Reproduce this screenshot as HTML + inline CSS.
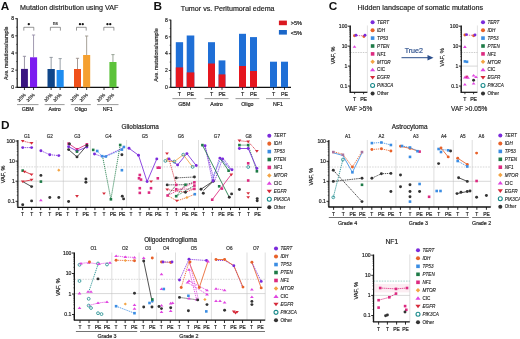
<!DOCTYPE html>
<html><head><meta charset="utf-8"><style>html,body{margin:0;padding:0;background:#fff;width:520px;height:339px;overflow:hidden}</style></head><body>
<svg width="520" height="339" viewBox="0 0 520 339" style="display:block;filter:blur(0.3px)">
<g font-family='"Liberation Sans", sans-serif'>
<rect width="520" height="339" fill="#fff"/>
<text x="0.80" y="9.90" font-size="11.8" text-anchor="start" fill="#111" font-weight="bold" font-style="normal">A</text>
<text x="20.00" y="10.40" font-size="7.15" text-anchor="start" fill="#222" font-weight="normal" font-style="normal" stroke="#222" stroke-width="0.18">Mutation distribution using VAF</text>
<line x1="17.20" y1="18.30" x2="17.20" y2="87.30" stroke="#111" stroke-width="1.15"/>
<line x1="16.70" y1="87.30" x2="118.60" y2="87.30" stroke="#111" stroke-width="1.2"/>
<line x1="15.20" y1="87.30" x2="17.20" y2="87.30" stroke="#111" stroke-width="0.8"/>
<text x="14.20" y="89.05" font-size="5.1" text-anchor="end" fill="#222" font-weight="normal" font-style="normal" stroke="#222" stroke-width="0.18">0</text>
<line x1="16.00" y1="78.72" x2="17.20" y2="78.72" stroke="#111" stroke-width="0.5"/>
<line x1="15.20" y1="70.14" x2="17.20" y2="70.14" stroke="#111" stroke-width="0.8"/>
<text x="14.20" y="71.89" font-size="5.1" text-anchor="end" fill="#222" font-weight="normal" font-style="normal" stroke="#222" stroke-width="0.18">2</text>
<line x1="16.00" y1="61.56" x2="17.20" y2="61.56" stroke="#111" stroke-width="0.5"/>
<line x1="15.20" y1="52.98" x2="17.20" y2="52.98" stroke="#111" stroke-width="0.8"/>
<text x="14.20" y="54.73" font-size="5.1" text-anchor="end" fill="#222" font-weight="normal" font-style="normal" stroke="#222" stroke-width="0.18">4</text>
<line x1="16.00" y1="44.40" x2="17.20" y2="44.40" stroke="#111" stroke-width="0.5"/>
<line x1="15.20" y1="35.82" x2="17.20" y2="35.82" stroke="#111" stroke-width="0.8"/>
<text x="14.20" y="37.57" font-size="5.1" text-anchor="end" fill="#222" font-weight="normal" font-style="normal" stroke="#222" stroke-width="0.18">6</text>
<line x1="16.00" y1="27.24" x2="17.20" y2="27.24" stroke="#111" stroke-width="0.5"/>
<line x1="15.20" y1="18.66" x2="17.20" y2="18.66" stroke="#111" stroke-width="0.8"/>
<text x="14.20" y="20.41" font-size="5.1" text-anchor="end" fill="#222" font-weight="normal" font-style="normal" stroke="#222" stroke-width="0.18">8</text>
<text x="8.30" y="53.20" font-size="5.3" text-anchor="middle" fill="#222" font-weight="normal" font-style="normal" transform="rotate(-90 8.3 53.2)" stroke="#222" stroke-width="0.18">Ave. mutations/sample</text>
<line x1="24.45" y1="68.90" x2="24.45" y2="56.30" stroke="#8f8a9c" stroke-width="0.9"/>
<line x1="22.85" y1="56.30" x2="26.05" y2="56.30" stroke="#8f8a9c" stroke-width="0.9"/>
<rect x="21.00" y="68.90" width="6.90" height="18.40" fill="#3A1580"/>
<line x1="33.55" y1="57.30" x2="33.55" y2="35.00" stroke="#978fa8" stroke-width="0.9"/>
<line x1="31.95" y1="35.00" x2="35.15" y2="35.00" stroke="#978fa8" stroke-width="0.9"/>
<rect x="30.00" y="57.30" width="7.10" height="30.00" fill="#7C1CF0"/>
<line x1="51.15" y1="69.00" x2="51.15" y2="57.40" stroke="#8a9098" stroke-width="0.9"/>
<line x1="49.55" y1="57.40" x2="52.75" y2="57.40" stroke="#8a9098" stroke-width="0.9"/>
<rect x="47.50" y="69.00" width="7.30" height="18.30" fill="#0F468A"/>
<line x1="60.15" y1="70.00" x2="60.15" y2="58.60" stroke="#8f979f" stroke-width="0.9"/>
<line x1="58.55" y1="58.60" x2="61.75" y2="58.60" stroke="#8f979f" stroke-width="0.9"/>
<rect x="56.60" y="70.00" width="7.10" height="17.30" fill="#1E8CF0"/>
<line x1="77.50" y1="69.00" x2="77.50" y2="58.30" stroke="#9c908a" stroke-width="0.9"/>
<line x1="75.90" y1="58.30" x2="79.10" y2="58.30" stroke="#9c908a" stroke-width="0.9"/>
<rect x="74.00" y="69.00" width="7.00" height="18.30" fill="#F0501A"/>
<line x1="86.65" y1="55.00" x2="86.65" y2="36.00" stroke="#9c968c" stroke-width="0.9"/>
<line x1="85.05" y1="36.00" x2="88.25" y2="36.00" stroke="#9c968c" stroke-width="0.9"/>
<rect x="83.10" y="55.00" width="7.10" height="32.30" fill="#F5A030"/>
<line x1="112.95" y1="62.00" x2="112.95" y2="54.60" stroke="#8f9c8c" stroke-width="0.9"/>
<line x1="111.35" y1="54.60" x2="114.55" y2="54.60" stroke="#8f9c8c" stroke-width="0.9"/>
<rect x="109.40" y="62.00" width="7.10" height="25.30" fill="#5CC23A"/>
<line x1="24.45" y1="87.30" x2="24.45" y2="90.00" stroke="#111" stroke-width="0.85"/>
<line x1="33.55" y1="87.30" x2="33.55" y2="90.00" stroke="#111" stroke-width="0.85"/>
<line x1="51.15" y1="87.30" x2="51.15" y2="90.00" stroke="#111" stroke-width="0.85"/>
<line x1="60.15" y1="87.30" x2="60.15" y2="90.00" stroke="#111" stroke-width="0.85"/>
<line x1="77.50" y1="87.30" x2="77.50" y2="90.00" stroke="#111" stroke-width="0.85"/>
<line x1="86.65" y1="87.30" x2="86.65" y2="90.00" stroke="#111" stroke-width="0.85"/>
<line x1="104.00" y1="87.30" x2="104.00" y2="90.00" stroke="#111" stroke-width="0.85"/>
<line x1="112.95" y1="87.30" x2="112.95" y2="90.00" stroke="#111" stroke-width="0.85"/>
<polyline points="23.80,30.60 23.80,27.30 33.80,27.30 33.80,30.60" fill="none" stroke="#444" stroke-width="0.55"/>
<circle cx="28.80" cy="24.2" r="1.15" fill="#111"/>
<polyline points="50.40,30.60 50.40,27.30 60.40,27.30 60.40,30.60" fill="none" stroke="#444" stroke-width="0.55"/>
<text x="55.40" y="25.20" font-size="4.8" text-anchor="middle" fill="#333" font-weight="normal" font-style="normal" stroke="#333" stroke-width="0.18">ns</text>
<polyline points="76.50,30.60 76.50,27.30 86.20,27.30 86.20,30.60" fill="none" stroke="#444" stroke-width="0.55"/>
<circle cx="79.95" cy="24.2" r="1.15" fill="#111"/>
<circle cx="82.75" cy="24.2" r="1.15" fill="#111"/>
<polyline points="103.80,30.60 103.80,27.30 113.90,27.30 113.90,30.60" fill="none" stroke="#444" stroke-width="0.55"/>
<circle cx="107.45" cy="24.2" r="1.15" fill="#111"/>
<circle cx="110.25" cy="24.2" r="1.15" fill="#111"/>
<text x="26.05" y="95.20" font-size="4.8" text-anchor="end" fill="#333" font-weight="normal" font-style="normal" transform="rotate(-45 26.05 95.2)" stroke="#333" stroke-width="0.18">≥5%</text>
<text x="35.15" y="95.20" font-size="4.8" text-anchor="end" fill="#333" font-weight="normal" font-style="normal" transform="rotate(-45 35.15 95.2)" stroke="#333" stroke-width="0.18">≥5%</text>
<text x="52.75" y="95.20" font-size="4.8" text-anchor="end" fill="#333" font-weight="normal" font-style="normal" transform="rotate(-45 52.75 95.2)" stroke="#333" stroke-width="0.18">≥5%</text>
<text x="61.75" y="95.20" font-size="4.8" text-anchor="end" fill="#333" font-weight="normal" font-style="normal" transform="rotate(-45 61.75 95.2)" stroke="#333" stroke-width="0.18">≥5%</text>
<text x="79.10" y="95.20" font-size="4.8" text-anchor="end" fill="#333" font-weight="normal" font-style="normal" transform="rotate(-45 79.1 95.2)" stroke="#333" stroke-width="0.18">≥5%</text>
<text x="88.25" y="95.20" font-size="4.8" text-anchor="end" fill="#333" font-weight="normal" font-style="normal" transform="rotate(-45 88.25 95.2)" stroke="#333" stroke-width="0.18">≥5%</text>
<text x="105.60" y="95.20" font-size="4.8" text-anchor="end" fill="#333" font-weight="normal" font-style="normal" transform="rotate(-45 105.6 95.2)" stroke="#333" stroke-width="0.18">≥5%</text>
<text x="114.55" y="95.20" font-size="4.8" text-anchor="end" fill="#333" font-weight="normal" font-style="normal" transform="rotate(-45 114.55 95.2)" stroke="#333" stroke-width="0.18">≥5%</text>
<line x1="17.00" y1="104.60" x2="38.50" y2="104.60" stroke="#555" stroke-width="0.6"/>
<text x="27.75" y="111.20" font-size="5.3" text-anchor="middle" fill="#222" font-weight="normal" font-style="normal" stroke="#222" stroke-width="0.18">GBM</text>
<line x1="44.60" y1="104.60" x2="64.60" y2="104.60" stroke="#555" stroke-width="0.6"/>
<text x="54.60" y="111.20" font-size="5.3" text-anchor="middle" fill="#222" font-weight="normal" font-style="normal" stroke="#222" stroke-width="0.18">Astro</text>
<line x1="70.80" y1="104.60" x2="90.80" y2="104.60" stroke="#555" stroke-width="0.6"/>
<text x="80.80" y="111.20" font-size="5.3" text-anchor="middle" fill="#222" font-weight="normal" font-style="normal" stroke="#222" stroke-width="0.18">Oligo</text>
<line x1="97.00" y1="104.60" x2="118.50" y2="104.60" stroke="#555" stroke-width="0.6"/>
<text x="107.75" y="111.20" font-size="5.3" text-anchor="middle" fill="#222" font-weight="normal" font-style="normal" stroke="#222" stroke-width="0.18">NF1</text>
<text x="153.60" y="9.90" font-size="11.8" text-anchor="start" fill="#111" font-weight="bold" font-style="normal">B</text>
<text x="180.80" y="10.60" font-size="7.15" text-anchor="start" fill="#222" font-weight="normal" font-style="normal" stroke="#222" stroke-width="0.18">Tumor vs. Peritumoral edema</text>
<line x1="170.80" y1="19.80" x2="170.80" y2="87.30" stroke="#111" stroke-width="1.15"/>
<line x1="170.30" y1="87.30" x2="291.00" y2="87.30" stroke="#111" stroke-width="1.2"/>
<line x1="168.80" y1="87.30" x2="170.80" y2="87.30" stroke="#111" stroke-width="0.8"/>
<text x="167.80" y="89.05" font-size="5.1" text-anchor="end" fill="#222" font-weight="normal" font-style="normal" stroke="#222" stroke-width="0.18">0</text>
<line x1="169.60" y1="78.89" x2="170.80" y2="78.89" stroke="#111" stroke-width="0.5"/>
<line x1="168.80" y1="70.48" x2="170.80" y2="70.48" stroke="#111" stroke-width="0.8"/>
<text x="167.80" y="72.23" font-size="5.1" text-anchor="end" fill="#222" font-weight="normal" font-style="normal" stroke="#222" stroke-width="0.18">2</text>
<line x1="169.60" y1="62.07" x2="170.80" y2="62.07" stroke="#111" stroke-width="0.5"/>
<line x1="168.80" y1="53.66" x2="170.80" y2="53.66" stroke="#111" stroke-width="0.8"/>
<text x="167.80" y="55.41" font-size="5.1" text-anchor="end" fill="#222" font-weight="normal" font-style="normal" stroke="#222" stroke-width="0.18">4</text>
<line x1="169.60" y1="45.25" x2="170.80" y2="45.25" stroke="#111" stroke-width="0.5"/>
<line x1="168.80" y1="36.84" x2="170.80" y2="36.84" stroke="#111" stroke-width="0.8"/>
<text x="167.80" y="38.59" font-size="5.1" text-anchor="end" fill="#222" font-weight="normal" font-style="normal" stroke="#222" stroke-width="0.18">6</text>
<line x1="169.60" y1="28.43" x2="170.80" y2="28.43" stroke="#111" stroke-width="0.5"/>
<line x1="168.80" y1="20.02" x2="170.80" y2="20.02" stroke="#111" stroke-width="0.8"/>
<text x="167.80" y="21.77" font-size="5.1" text-anchor="end" fill="#222" font-weight="normal" font-style="normal" stroke="#222" stroke-width="0.18">8</text>
<text x="157.80" y="55.10" font-size="5.3" text-anchor="middle" fill="#222" font-weight="normal" font-style="normal" transform="rotate(-90 157.8 55.1)" stroke="#222" stroke-width="0.18">Ave. mutations/sample</text>
<rect x="175.80" y="42.20" width="7.30" height="45.10" fill="#1F6FD6"/>
<rect x="175.80" y="67.40" width="7.30" height="19.90" fill="#E5161F"/>
<line x1="179.45" y1="87.30" x2="179.45" y2="89.80" stroke="#111" stroke-width="0.85"/>
<text x="179.45" y="96.20" font-size="5.3" text-anchor="middle" fill="#222" font-weight="normal" font-style="normal" stroke="#222" stroke-width="0.18">T</text>
<rect x="186.70" y="35.50" width="7.60" height="51.80" fill="#1F6FD6"/>
<rect x="186.70" y="72.40" width="7.60" height="14.90" fill="#E5161F"/>
<line x1="190.50" y1="87.30" x2="190.50" y2="89.80" stroke="#111" stroke-width="0.85"/>
<text x="190.50" y="96.20" font-size="5.3" text-anchor="middle" fill="#222" font-weight="normal" font-style="normal" stroke="#222" stroke-width="0.18">PE</text>
<rect x="208.00" y="42.20" width="7.00" height="45.10" fill="#1F6FD6"/>
<rect x="208.00" y="63.50" width="7.00" height="23.80" fill="#E5161F"/>
<line x1="211.50" y1="87.30" x2="211.50" y2="89.80" stroke="#111" stroke-width="0.85"/>
<text x="211.50" y="96.20" font-size="5.3" text-anchor="middle" fill="#222" font-weight="normal" font-style="normal" stroke="#222" stroke-width="0.18">T</text>
<rect x="218.60" y="60.40" width="6.80" height="26.90" fill="#1F6FD6"/>
<rect x="218.60" y="74.40" width="6.80" height="12.90" fill="#E5161F"/>
<line x1="222.00" y1="87.30" x2="222.00" y2="89.80" stroke="#111" stroke-width="0.85"/>
<text x="222.00" y="96.20" font-size="5.3" text-anchor="middle" fill="#222" font-weight="normal" font-style="normal" stroke="#222" stroke-width="0.18">PE</text>
<rect x="239.00" y="33.80" width="7.00" height="53.50" fill="#1F6FD6"/>
<rect x="239.00" y="66.00" width="7.00" height="21.30" fill="#E5161F"/>
<line x1="242.50" y1="87.30" x2="242.50" y2="89.80" stroke="#111" stroke-width="0.85"/>
<text x="242.50" y="96.20" font-size="5.3" text-anchor="middle" fill="#222" font-weight="normal" font-style="normal" stroke="#222" stroke-width="0.18">T</text>
<rect x="250.00" y="37.10" width="7.00" height="50.20" fill="#1F6FD6"/>
<rect x="250.00" y="71.00" width="7.00" height="16.30" fill="#E5161F"/>
<line x1="253.50" y1="87.30" x2="253.50" y2="89.80" stroke="#111" stroke-width="0.85"/>
<text x="253.50" y="96.20" font-size="5.3" text-anchor="middle" fill="#222" font-weight="normal" font-style="normal" stroke="#222" stroke-width="0.18">PE</text>
<rect x="270.00" y="61.70" width="7.00" height="25.60" fill="#1F6FD6"/>
<line x1="273.50" y1="87.30" x2="273.50" y2="89.80" stroke="#111" stroke-width="0.85"/>
<text x="273.50" y="96.20" font-size="5.3" text-anchor="middle" fill="#222" font-weight="normal" font-style="normal" stroke="#222" stroke-width="0.18">T</text>
<rect x="281.00" y="61.70" width="7.00" height="25.60" fill="#1F6FD6"/>
<line x1="284.50" y1="87.30" x2="284.50" y2="89.80" stroke="#111" stroke-width="0.85"/>
<text x="284.50" y="96.20" font-size="5.3" text-anchor="middle" fill="#222" font-weight="normal" font-style="normal" stroke="#222" stroke-width="0.18">PE</text>
<line x1="172.40" y1="98.60" x2="196.20" y2="98.60" stroke="#555" stroke-width="0.6"/>
<text x="184.30" y="105.80" font-size="5.3" text-anchor="middle" fill="#222" font-weight="normal" font-style="normal" stroke="#222" stroke-width="0.18">GBM</text>
<line x1="204.60" y1="98.60" x2="228.50" y2="98.60" stroke="#555" stroke-width="0.6"/>
<text x="216.55" y="105.80" font-size="5.3" text-anchor="middle" fill="#222" font-weight="normal" font-style="normal" stroke="#222" stroke-width="0.18">Astro</text>
<line x1="235.50" y1="98.60" x2="259.30" y2="98.60" stroke="#555" stroke-width="0.6"/>
<text x="247.40" y="105.80" font-size="5.3" text-anchor="middle" fill="#222" font-weight="normal" font-style="normal" stroke="#222" stroke-width="0.18">Oligo</text>
<line x1="266.00" y1="98.60" x2="290.00" y2="98.60" stroke="#555" stroke-width="0.6"/>
<text x="278.00" y="105.80" font-size="5.3" text-anchor="middle" fill="#222" font-weight="normal" font-style="normal" stroke="#222" stroke-width="0.18">NF1</text>
<rect x="278.90" y="20.60" width="8.00" height="4.60" fill="#DA1820"/>
<rect x="278.90" y="30.00" width="8.00" height="4.60" fill="#1A66C8"/>
<text x="290.80" y="25.20" font-size="5.5" text-anchor="start" fill="#222" font-weight="normal" font-style="normal" stroke="#222" stroke-width="0.18">&gt;5%</text>
<text x="290.80" y="34.60" font-size="5.5" text-anchor="start" fill="#222" font-weight="normal" font-style="normal" stroke="#222" stroke-width="0.18">&lt;5%</text>
<text x="328.70" y="9.90" font-size="11.8" text-anchor="start" fill="#111" font-weight="bold" font-style="normal">C</text>
<text x="357.60" y="10.40" font-size="7.2" text-anchor="start" fill="#222" font-weight="normal" font-style="normal" stroke="#222" stroke-width="0.18">Hidden landscape of somatic mutations</text>
<line x1="367.40" y1="25.50" x2="367.40" y2="92.30" stroke="#ccc" stroke-width="0.6"/>
<line x1="350.30" y1="52.50" x2="367.40" y2="52.50" stroke="#aaa" stroke-width="0.6" stroke-dasharray="1.5,1"/>
<line x1="350.30" y1="25.50" x2="350.30" y2="92.30" stroke="#111" stroke-width="1.15"/>
<line x1="347.90" y1="86.05" x2="350.30" y2="86.05" stroke="#111" stroke-width="0.9"/>
<text x="347.30" y="87.80" font-size="5.1" text-anchor="end" fill="#222" font-weight="normal" font-style="normal" stroke="#222" stroke-width="0.18">0.1</text>
<line x1="349.10" y1="80.04" x2="350.30" y2="80.04" stroke="#111" stroke-width="0.5"/>
<line x1="349.10" y1="76.53" x2="350.30" y2="76.53" stroke="#111" stroke-width="0.5"/>
<line x1="349.10" y1="74.04" x2="350.30" y2="74.04" stroke="#111" stroke-width="0.5"/>
<line x1="349.10" y1="72.11" x2="350.30" y2="72.11" stroke="#111" stroke-width="0.5"/>
<line x1="349.10" y1="70.53" x2="350.30" y2="70.53" stroke="#111" stroke-width="0.5"/>
<line x1="349.10" y1="69.19" x2="350.30" y2="69.19" stroke="#111" stroke-width="0.5"/>
<line x1="349.10" y1="68.03" x2="350.30" y2="68.03" stroke="#111" stroke-width="0.5"/>
<line x1="349.10" y1="67.01" x2="350.30" y2="67.01" stroke="#111" stroke-width="0.5"/>
<line x1="347.90" y1="66.10" x2="350.30" y2="66.10" stroke="#111" stroke-width="0.9"/>
<text x="347.30" y="67.85" font-size="5.1" text-anchor="end" fill="#222" font-weight="normal" font-style="normal" stroke="#222" stroke-width="0.18">1</text>
<line x1="349.10" y1="60.09" x2="350.30" y2="60.09" stroke="#111" stroke-width="0.5"/>
<line x1="349.10" y1="56.58" x2="350.30" y2="56.58" stroke="#111" stroke-width="0.5"/>
<line x1="349.10" y1="54.09" x2="350.30" y2="54.09" stroke="#111" stroke-width="0.5"/>
<line x1="349.10" y1="52.16" x2="350.30" y2="52.16" stroke="#111" stroke-width="0.5"/>
<line x1="349.10" y1="50.58" x2="350.30" y2="50.58" stroke="#111" stroke-width="0.5"/>
<line x1="349.10" y1="49.24" x2="350.30" y2="49.24" stroke="#111" stroke-width="0.5"/>
<line x1="349.10" y1="48.08" x2="350.30" y2="48.08" stroke="#111" stroke-width="0.5"/>
<line x1="349.10" y1="47.06" x2="350.30" y2="47.06" stroke="#111" stroke-width="0.5"/>
<line x1="347.90" y1="46.15" x2="350.30" y2="46.15" stroke="#111" stroke-width="0.9"/>
<text x="347.30" y="47.90" font-size="5.1" text-anchor="end" fill="#222" font-weight="normal" font-style="normal" stroke="#222" stroke-width="0.18">10</text>
<line x1="349.10" y1="40.14" x2="350.30" y2="40.14" stroke="#111" stroke-width="0.5"/>
<line x1="349.10" y1="36.63" x2="350.30" y2="36.63" stroke="#111" stroke-width="0.5"/>
<line x1="349.10" y1="34.14" x2="350.30" y2="34.14" stroke="#111" stroke-width="0.5"/>
<line x1="349.10" y1="32.21" x2="350.30" y2="32.21" stroke="#111" stroke-width="0.5"/>
<line x1="349.10" y1="30.63" x2="350.30" y2="30.63" stroke="#111" stroke-width="0.5"/>
<line x1="349.10" y1="29.29" x2="350.30" y2="29.29" stroke="#111" stroke-width="0.5"/>
<line x1="349.10" y1="28.13" x2="350.30" y2="28.13" stroke="#111" stroke-width="0.5"/>
<line x1="349.10" y1="27.11" x2="350.30" y2="27.11" stroke="#111" stroke-width="0.5"/>
<line x1="347.90" y1="26.20" x2="350.30" y2="26.20" stroke="#111" stroke-width="0.9"/>
<text x="347.30" y="27.95" font-size="5.1" text-anchor="end" fill="#222" font-weight="normal" font-style="normal" stroke="#222" stroke-width="0.18">100</text>
<line x1="349.10" y1="92.06" x2="350.30" y2="92.06" stroke="#111" stroke-width="0.5"/>
<line x1="349.10" y1="90.48" x2="350.30" y2="90.48" stroke="#111" stroke-width="0.5"/>
<line x1="349.10" y1="89.14" x2="350.30" y2="89.14" stroke="#111" stroke-width="0.5"/>
<line x1="349.10" y1="87.98" x2="350.30" y2="87.98" stroke="#111" stroke-width="0.5"/>
<line x1="349.10" y1="86.96" x2="350.30" y2="86.96" stroke="#111" stroke-width="0.5"/>
<line x1="349.70" y1="92.30" x2="367.40" y2="92.30" stroke="#111" stroke-width="1.2"/>
<polyline points="355.00,35.50 364.50,35.80" fill="none" stroke="#DC2A80" stroke-width="0.7" stroke-dasharray="1.2,0.8"/>
<circle cx="354.50" cy="35.80" r="1.46" fill="#E8622A"/>
<circle cx="356.00" cy="35.30" r="1.46" fill="#7B2BDB"/>
<circle cx="363.90" cy="36.50" r="1.46" fill="#E8622A"/>
<circle cx="365.00" cy="35.30" r="1.46" fill="#7B2BDB"/>
<polygon points="354.50,45.17 356.38,47.70 352.62,47.70" fill="#E046E0"/>
<line x1="354.60" y1="92.30" x2="354.60" y2="94.20" stroke="#111" stroke-width="0.8"/>
<text x="354.60" y="100.80" font-size="5.2" text-anchor="middle" fill="#222" font-weight="normal" font-style="normal" stroke="#222" stroke-width="0.18">T</text>
<line x1="363.60" y1="92.30" x2="363.60" y2="94.20" stroke="#111" stroke-width="0.8"/>
<text x="363.60" y="100.80" font-size="5.2" text-anchor="middle" fill="#222" font-weight="normal" font-style="normal" stroke="#222" stroke-width="0.18">PE</text>
<text x="335.50" y="55.40" font-size="5.5" text-anchor="middle" fill="#222" font-weight="normal" font-style="normal" transform="rotate(-90 335.5 55.4)" stroke="#222" stroke-width="0.18">VAF, %</text>
<text x="358.70" y="110.60" font-size="6.5" text-anchor="middle" fill="#222" font-weight="normal" font-style="normal" stroke="#222" stroke-width="0.18">VAF &gt;5%</text>
<circle cx="372.60" cy="22.30" r="2.02" fill="#7B2BDB"/>
<text x="377.10" y="24.00" font-size="4.6" text-anchor="start" fill="#222" font-weight="normal" font-style="italic" stroke="#222" stroke-width="0.12">TERT</text>
<circle cx="372.60" cy="30.20" r="2.02" fill="#E8622A"/>
<text x="377.10" y="31.90" font-size="4.6" text-anchor="start" fill="#222" font-weight="normal" font-style="italic" stroke="#222" stroke-width="0.12">IDH</text>
<rect x="370.80" y="36.30" width="3.60" height="3.60" fill="#3B8DE3"/>
<text x="377.10" y="39.80" font-size="4.6" text-anchor="start" fill="#222" font-weight="normal" font-style="italic" stroke="#222" stroke-width="0.12">TP53</text>
<rect x="370.80" y="44.20" width="3.60" height="3.60" fill="#1E7B47"/>
<text x="377.10" y="47.70" font-size="4.6" text-anchor="start" fill="#222" font-weight="normal" font-style="italic" stroke="#222" stroke-width="0.12">PTEN</text>
<rect x="370.80" y="52.10" width="3.60" height="3.60" fill="#DC2A80"/>
<text x="377.10" y="55.60" font-size="4.6" text-anchor="start" fill="#222" font-weight="normal" font-style="italic" stroke="#222" stroke-width="0.12">NF1</text>
<polygon points="372.60,59.55 374.85,61.80 372.60,64.05 370.35,61.80" fill="#F3A444"/>
<text x="377.10" y="63.50" font-size="4.6" text-anchor="start" fill="#222" font-weight="normal" font-style="italic" stroke="#222" stroke-width="0.12">MTOR</text>
<polygon points="372.60,67.72 375.21,71.23 369.99,71.23" fill="#E046E0"/>
<text x="377.10" y="71.40" font-size="4.6" text-anchor="start" fill="#222" font-weight="normal" font-style="normal" stroke="#222" stroke-width="0.12">CIC</text>
<polygon points="372.60,79.58 375.21,76.07 369.99,76.07" fill="#D62A3A"/>
<text x="377.10" y="79.30" font-size="4.6" text-anchor="start" fill="#222" font-weight="normal" font-style="italic" stroke="#222" stroke-width="0.12">EGFR</text>
<circle cx="372.60" cy="85.50" r="1.98" fill="none" stroke="#17898A" stroke-width="1.08"/>
<text x="377.10" y="87.20" font-size="4.6" text-anchor="start" fill="#222" font-weight="normal" font-style="italic" stroke="#222" stroke-width="0.12">PIK3CA</text>
<circle cx="372.60" cy="93.40" r="2.02" fill="#333333"/>
<text x="377.10" y="95.10" font-size="4.6" text-anchor="start" fill="#222" font-weight="normal" font-style="normal" stroke="#222" stroke-width="0.12">Other</text>
<line x1="401.50" y1="57.70" x2="429.00" y2="57.70" stroke="#2C4F8C" stroke-width="1.0"/>
<polygon points="433.5,57.7 427.5,55.0 427.5,60.4" fill="#2C4F8C"/>
<text x="413.80" y="53.20" font-size="7.1" text-anchor="middle" fill="#2C4F8C" font-weight="normal" font-style="normal" stroke="#2C4F8C" stroke-width="0.18">True2</text>
<line x1="477.40" y1="25.50" x2="477.40" y2="92.30" stroke="#ccc" stroke-width="0.6"/>
<line x1="461.30" y1="52.50" x2="477.40" y2="52.50" stroke="#aaa" stroke-width="0.6" stroke-dasharray="1.5,1"/>
<line x1="461.30" y1="66.10" x2="477.40" y2="66.10" stroke="#bbb" stroke-width="0.6"/>
<line x1="461.30" y1="25.50" x2="461.30" y2="92.30" stroke="#111" stroke-width="1.15"/>
<line x1="458.90" y1="86.05" x2="461.30" y2="86.05" stroke="#111" stroke-width="0.9"/>
<text x="458.30" y="87.80" font-size="5.1" text-anchor="end" fill="#222" font-weight="normal" font-style="normal" stroke="#222" stroke-width="0.18">0.1</text>
<line x1="460.10" y1="80.04" x2="461.30" y2="80.04" stroke="#111" stroke-width="0.5"/>
<line x1="460.10" y1="76.53" x2="461.30" y2="76.53" stroke="#111" stroke-width="0.5"/>
<line x1="460.10" y1="74.04" x2="461.30" y2="74.04" stroke="#111" stroke-width="0.5"/>
<line x1="460.10" y1="72.11" x2="461.30" y2="72.11" stroke="#111" stroke-width="0.5"/>
<line x1="460.10" y1="70.53" x2="461.30" y2="70.53" stroke="#111" stroke-width="0.5"/>
<line x1="460.10" y1="69.19" x2="461.30" y2="69.19" stroke="#111" stroke-width="0.5"/>
<line x1="460.10" y1="68.03" x2="461.30" y2="68.03" stroke="#111" stroke-width="0.5"/>
<line x1="460.10" y1="67.01" x2="461.30" y2="67.01" stroke="#111" stroke-width="0.5"/>
<line x1="458.90" y1="66.10" x2="461.30" y2="66.10" stroke="#111" stroke-width="0.9"/>
<text x="458.30" y="67.85" font-size="5.1" text-anchor="end" fill="#222" font-weight="normal" font-style="normal" stroke="#222" stroke-width="0.18">1</text>
<line x1="460.10" y1="60.09" x2="461.30" y2="60.09" stroke="#111" stroke-width="0.5"/>
<line x1="460.10" y1="56.58" x2="461.30" y2="56.58" stroke="#111" stroke-width="0.5"/>
<line x1="460.10" y1="54.09" x2="461.30" y2="54.09" stroke="#111" stroke-width="0.5"/>
<line x1="460.10" y1="52.16" x2="461.30" y2="52.16" stroke="#111" stroke-width="0.5"/>
<line x1="460.10" y1="50.58" x2="461.30" y2="50.58" stroke="#111" stroke-width="0.5"/>
<line x1="460.10" y1="49.24" x2="461.30" y2="49.24" stroke="#111" stroke-width="0.5"/>
<line x1="460.10" y1="48.08" x2="461.30" y2="48.08" stroke="#111" stroke-width="0.5"/>
<line x1="460.10" y1="47.06" x2="461.30" y2="47.06" stroke="#111" stroke-width="0.5"/>
<line x1="458.90" y1="46.15" x2="461.30" y2="46.15" stroke="#111" stroke-width="0.9"/>
<text x="458.30" y="47.90" font-size="5.1" text-anchor="end" fill="#222" font-weight="normal" font-style="normal" stroke="#222" stroke-width="0.18">10</text>
<line x1="460.10" y1="40.14" x2="461.30" y2="40.14" stroke="#111" stroke-width="0.5"/>
<line x1="460.10" y1="36.63" x2="461.30" y2="36.63" stroke="#111" stroke-width="0.5"/>
<line x1="460.10" y1="34.14" x2="461.30" y2="34.14" stroke="#111" stroke-width="0.5"/>
<line x1="460.10" y1="32.21" x2="461.30" y2="32.21" stroke="#111" stroke-width="0.5"/>
<line x1="460.10" y1="30.63" x2="461.30" y2="30.63" stroke="#111" stroke-width="0.5"/>
<line x1="460.10" y1="29.29" x2="461.30" y2="29.29" stroke="#111" stroke-width="0.5"/>
<line x1="460.10" y1="28.13" x2="461.30" y2="28.13" stroke="#111" stroke-width="0.5"/>
<line x1="460.10" y1="27.11" x2="461.30" y2="27.11" stroke="#111" stroke-width="0.5"/>
<line x1="458.90" y1="26.20" x2="461.30" y2="26.20" stroke="#111" stroke-width="0.9"/>
<text x="458.30" y="27.95" font-size="5.1" text-anchor="end" fill="#222" font-weight="normal" font-style="normal" stroke="#222" stroke-width="0.18">100</text>
<line x1="460.10" y1="92.06" x2="461.30" y2="92.06" stroke="#111" stroke-width="0.5"/>
<line x1="460.10" y1="90.48" x2="461.30" y2="90.48" stroke="#111" stroke-width="0.5"/>
<line x1="460.10" y1="89.14" x2="461.30" y2="89.14" stroke="#111" stroke-width="0.5"/>
<line x1="460.10" y1="87.98" x2="461.30" y2="87.98" stroke="#111" stroke-width="0.5"/>
<line x1="460.10" y1="86.96" x2="461.30" y2="86.96" stroke="#111" stroke-width="0.5"/>
<line x1="460.70" y1="92.30" x2="477.40" y2="92.30" stroke="#111" stroke-width="1.2"/>
<polyline points="465.00,35.00 474.00,35.40" fill="none" stroke="#DC2A80" stroke-width="0.7" stroke-dasharray="1.2,0.8"/>
<circle cx="464.90" cy="35.00" r="1.46" fill="#E8622A"/>
<circle cx="466.50" cy="34.60" r="1.46" fill="#7B2BDB"/>
<circle cx="473.60" cy="35.70" r="1.46" fill="#E8622A"/>
<circle cx="475.00" cy="35.00" r="1.46" fill="#7B2BDB"/>
<polygon points="464.90,45.37 466.78,47.90 463.01,47.90" fill="#E046E0"/>
<rect x="463.60" y="60.10" width="2.60" height="2.60" fill="#3B8DE3"/>
<rect x="465.70" y="60.50" width="2.60" height="2.60" fill="#3B8DE3"/>
<polygon points="464.90,75.87 466.78,78.41 463.01,78.41" fill="#E046E0"/>
<rect x="465.50" y="75.60" width="2.60" height="2.60" fill="#DC2A80"/>
<polygon points="468.00,76.17 469.88,78.70 466.12,78.70" fill="#E046E0"/>
<polygon points="464.90,83.07 466.78,85.61 463.01,85.61" fill="#E046E0"/>
<polygon points="473.60,74.07 475.49,76.61 471.72,76.61" fill="#E046E0"/>
<polygon points="476.00,75.57 477.88,78.11 474.12,78.11" fill="#E046E0"/>
<circle cx="473.60" cy="80.30" r="1.46" fill="#333333"/>
<polygon points="473.60,81.97 475.49,84.51 471.72,84.51" fill="#E046E0"/>
<line x1="464.90" y1="92.30" x2="464.90" y2="94.20" stroke="#111" stroke-width="0.8"/>
<text x="464.90" y="100.80" font-size="5.2" text-anchor="middle" fill="#222" font-weight="normal" font-style="normal" stroke="#222" stroke-width="0.18">T</text>
<line x1="473.60" y1="92.30" x2="473.60" y2="94.20" stroke="#111" stroke-width="0.8"/>
<text x="473.60" y="100.80" font-size="5.2" text-anchor="middle" fill="#222" font-weight="normal" font-style="normal" stroke="#222" stroke-width="0.18">PE</text>
<text x="444.50" y="57.40" font-size="5.8" text-anchor="middle" fill="#222" font-weight="normal" font-style="normal" transform="rotate(-90 444.5 57.4)" stroke="#222" stroke-width="0.18">VAF, %</text>
<text x="469.20" y="110.60" font-size="6.5" text-anchor="middle" fill="#222" font-weight="normal" font-style="normal" stroke="#222" stroke-width="0.18">VAF &gt;0.05%</text>
<circle cx="483.00" cy="22.30" r="2.02" fill="#7B2BDB"/>
<text x="487.50" y="24.00" font-size="4.6" text-anchor="start" fill="#222" font-weight="normal" font-style="italic" stroke="#222" stroke-width="0.12">TERT</text>
<circle cx="483.00" cy="30.20" r="2.02" fill="#E8622A"/>
<text x="487.50" y="31.90" font-size="4.6" text-anchor="start" fill="#222" font-weight="normal" font-style="italic" stroke="#222" stroke-width="0.12">IDH</text>
<rect x="481.20" y="36.30" width="3.60" height="3.60" fill="#3B8DE3"/>
<text x="487.50" y="39.80" font-size="4.6" text-anchor="start" fill="#222" font-weight="normal" font-style="italic" stroke="#222" stroke-width="0.12">TP53</text>
<rect x="481.20" y="44.20" width="3.60" height="3.60" fill="#1E7B47"/>
<text x="487.50" y="47.70" font-size="4.6" text-anchor="start" fill="#222" font-weight="normal" font-style="italic" stroke="#222" stroke-width="0.12">PTEN</text>
<rect x="481.20" y="52.10" width="3.60" height="3.60" fill="#DC2A80"/>
<text x="487.50" y="55.60" font-size="4.6" text-anchor="start" fill="#222" font-weight="normal" font-style="italic" stroke="#222" stroke-width="0.12">NF1</text>
<polygon points="483.00,59.55 485.25,61.80 483.00,64.05 480.75,61.80" fill="#F3A444"/>
<text x="487.50" y="63.50" font-size="4.6" text-anchor="start" fill="#222" font-weight="normal" font-style="italic" stroke="#222" stroke-width="0.12">MTOR</text>
<polygon points="483.00,67.72 485.61,71.23 480.39,71.23" fill="#E046E0"/>
<text x="487.50" y="71.40" font-size="4.6" text-anchor="start" fill="#222" font-weight="normal" font-style="normal" stroke="#222" stroke-width="0.12">CIC</text>
<polygon points="483.00,79.58 485.61,76.07 480.39,76.07" fill="#D62A3A"/>
<text x="487.50" y="79.30" font-size="4.6" text-anchor="start" fill="#222" font-weight="normal" font-style="italic" stroke="#222" stroke-width="0.12">EGFR</text>
<circle cx="483.00" cy="85.50" r="1.98" fill="none" stroke="#17898A" stroke-width="1.08"/>
<text x="487.50" y="87.20" font-size="4.6" text-anchor="start" fill="#222" font-weight="normal" font-style="italic" stroke="#222" stroke-width="0.12">PIK3CA</text>
<circle cx="483.00" cy="93.40" r="2.02" fill="#333333"/>
<text x="487.50" y="95.10" font-size="4.6" text-anchor="start" fill="#222" font-weight="normal" font-style="normal" stroke="#222" stroke-width="0.12">Other</text>
<text x="0.90" y="128.50" font-size="11.8" text-anchor="start" fill="#111" font-weight="bold" font-style="normal">D</text>
<text x="140.20" y="129.20" font-size="6.4" text-anchor="middle" fill="#222" font-weight="normal" font-style="normal" stroke="#222" stroke-width="0.18">Glioblastoma</text>
<line x1="36.20" y1="140.00" x2="36.20" y2="207.30" stroke="#c8c8c8" stroke-width="0.6"/>
<line x1="63.30" y1="140.00" x2="63.30" y2="207.30" stroke="#c8c8c8" stroke-width="0.6"/>
<line x1="90.50" y1="140.00" x2="90.50" y2="207.30" stroke="#c8c8c8" stroke-width="0.6"/>
<line x1="126.60" y1="140.00" x2="126.60" y2="207.30" stroke="#c8c8c8" stroke-width="0.6"/>
<line x1="162.50" y1="140.00" x2="162.50" y2="207.30" stroke="#c8c8c8" stroke-width="0.6"/>
<line x1="198.50" y1="140.00" x2="198.50" y2="207.30" stroke="#c8c8c8" stroke-width="0.6"/>
<line x1="234.80" y1="140.00" x2="234.80" y2="207.30" stroke="#c8c8c8" stroke-width="0.6"/>
<line x1="261.60" y1="140.00" x2="261.60" y2="207.30" stroke="#c8c8c8" stroke-width="0.6"/>
<line x1="17.90" y1="166.90" x2="261.60" y2="166.90" stroke="#c6c6c6" stroke-width="0.7" stroke-dasharray="1.6,1.1"/>
<line x1="17.90" y1="181.20" x2="261.60" y2="181.20" stroke="#bdbdbd" stroke-width="0.6"/>
<line x1="17.90" y1="140.00" x2="17.90" y2="207.30" stroke="#111" stroke-width="1.15"/>
<line x1="15.50" y1="201.30" x2="17.90" y2="201.30" stroke="#111" stroke-width="0.9"/>
<text x="14.90" y="203.05" font-size="5.1" text-anchor="end" fill="#222" font-weight="normal" font-style="normal" stroke="#222" stroke-width="0.18">0.1</text>
<line x1="16.70" y1="195.25" x2="17.90" y2="195.25" stroke="#111" stroke-width="0.5"/>
<line x1="16.70" y1="191.71" x2="17.90" y2="191.71" stroke="#111" stroke-width="0.5"/>
<line x1="16.70" y1="189.20" x2="17.90" y2="189.20" stroke="#111" stroke-width="0.5"/>
<line x1="16.70" y1="187.25" x2="17.90" y2="187.25" stroke="#111" stroke-width="0.5"/>
<line x1="16.70" y1="185.66" x2="17.90" y2="185.66" stroke="#111" stroke-width="0.5"/>
<line x1="16.70" y1="184.31" x2="17.90" y2="184.31" stroke="#111" stroke-width="0.5"/>
<line x1="16.70" y1="183.15" x2="17.90" y2="183.15" stroke="#111" stroke-width="0.5"/>
<line x1="16.70" y1="182.12" x2="17.90" y2="182.12" stroke="#111" stroke-width="0.5"/>
<line x1="15.50" y1="181.20" x2="17.90" y2="181.20" stroke="#111" stroke-width="0.9"/>
<text x="14.90" y="182.95" font-size="5.1" text-anchor="end" fill="#222" font-weight="normal" font-style="normal" stroke="#222" stroke-width="0.18">1</text>
<line x1="16.70" y1="175.15" x2="17.90" y2="175.15" stroke="#111" stroke-width="0.5"/>
<line x1="16.70" y1="171.61" x2="17.90" y2="171.61" stroke="#111" stroke-width="0.5"/>
<line x1="16.70" y1="169.10" x2="17.90" y2="169.10" stroke="#111" stroke-width="0.5"/>
<line x1="16.70" y1="167.15" x2="17.90" y2="167.15" stroke="#111" stroke-width="0.5"/>
<line x1="16.70" y1="165.56" x2="17.90" y2="165.56" stroke="#111" stroke-width="0.5"/>
<line x1="16.70" y1="164.21" x2="17.90" y2="164.21" stroke="#111" stroke-width="0.5"/>
<line x1="16.70" y1="163.05" x2="17.90" y2="163.05" stroke="#111" stroke-width="0.5"/>
<line x1="16.70" y1="162.02" x2="17.90" y2="162.02" stroke="#111" stroke-width="0.5"/>
<line x1="15.50" y1="161.10" x2="17.90" y2="161.10" stroke="#111" stroke-width="0.9"/>
<text x="14.90" y="162.85" font-size="5.1" text-anchor="end" fill="#222" font-weight="normal" font-style="normal" stroke="#222" stroke-width="0.18">10</text>
<line x1="16.70" y1="155.05" x2="17.90" y2="155.05" stroke="#111" stroke-width="0.5"/>
<line x1="16.70" y1="151.51" x2="17.90" y2="151.51" stroke="#111" stroke-width="0.5"/>
<line x1="16.70" y1="149.00" x2="17.90" y2="149.00" stroke="#111" stroke-width="0.5"/>
<line x1="16.70" y1="147.05" x2="17.90" y2="147.05" stroke="#111" stroke-width="0.5"/>
<line x1="16.70" y1="145.46" x2="17.90" y2="145.46" stroke="#111" stroke-width="0.5"/>
<line x1="16.70" y1="144.11" x2="17.90" y2="144.11" stroke="#111" stroke-width="0.5"/>
<line x1="16.70" y1="142.95" x2="17.90" y2="142.95" stroke="#111" stroke-width="0.5"/>
<line x1="16.70" y1="141.92" x2="17.90" y2="141.92" stroke="#111" stroke-width="0.5"/>
<line x1="15.50" y1="141.00" x2="17.90" y2="141.00" stroke="#111" stroke-width="0.9"/>
<text x="14.90" y="142.75" font-size="5.1" text-anchor="end" fill="#222" font-weight="normal" font-style="normal" stroke="#222" stroke-width="0.18">100</text>
<line x1="16.70" y1="205.76" x2="17.90" y2="205.76" stroke="#111" stroke-width="0.5"/>
<line x1="16.70" y1="204.41" x2="17.90" y2="204.41" stroke="#111" stroke-width="0.5"/>
<line x1="16.70" y1="203.25" x2="17.90" y2="203.25" stroke="#111" stroke-width="0.5"/>
<line x1="16.70" y1="202.22" x2="17.90" y2="202.22" stroke="#111" stroke-width="0.5"/>
<line x1="17.30" y1="207.30" x2="261.60" y2="207.30" stroke="#111" stroke-width="1.3"/>
<line x1="22.60" y1="207.30" x2="22.60" y2="210.10" stroke="#111" stroke-width="0.9"/>
<text x="22.60" y="215.80" font-size="4.9" text-anchor="middle" fill="#222" font-weight="normal" font-style="normal" stroke="#222" stroke-width="0.18">T</text>
<line x1="31.64" y1="207.30" x2="31.64" y2="210.10" stroke="#111" stroke-width="0.9"/>
<text x="31.64" y="215.80" font-size="4.9" text-anchor="middle" fill="#222" font-weight="normal" font-style="normal" stroke="#222" stroke-width="0.18">T</text>
<line x1="40.68" y1="207.30" x2="40.68" y2="210.10" stroke="#111" stroke-width="0.9"/>
<text x="40.68" y="215.80" font-size="4.9" text-anchor="middle" fill="#222" font-weight="normal" font-style="normal" stroke="#222" stroke-width="0.18">T</text>
<line x1="49.72" y1="207.30" x2="49.72" y2="210.10" stroke="#111" stroke-width="0.9"/>
<text x="49.72" y="215.80" font-size="4.9" text-anchor="middle" fill="#222" font-weight="normal" font-style="normal" stroke="#222" stroke-width="0.18">T</text>
<line x1="58.76" y1="207.30" x2="58.76" y2="210.10" stroke="#111" stroke-width="0.9"/>
<text x="58.76" y="215.80" font-size="4.9" text-anchor="middle" fill="#222" font-weight="normal" font-style="normal" stroke="#222" stroke-width="0.18">PE</text>
<line x1="67.80" y1="207.30" x2="67.80" y2="210.10" stroke="#111" stroke-width="0.9"/>
<text x="67.80" y="215.80" font-size="4.9" text-anchor="middle" fill="#222" font-weight="normal" font-style="normal" stroke="#222" stroke-width="0.18">T</text>
<line x1="76.84" y1="207.30" x2="76.84" y2="210.10" stroke="#111" stroke-width="0.9"/>
<text x="76.84" y="215.80" font-size="4.9" text-anchor="middle" fill="#222" font-weight="normal" font-style="normal" stroke="#222" stroke-width="0.18">T</text>
<line x1="85.88" y1="207.30" x2="85.88" y2="210.10" stroke="#111" stroke-width="0.9"/>
<text x="85.88" y="215.80" font-size="4.9" text-anchor="middle" fill="#222" font-weight="normal" font-style="normal" stroke="#222" stroke-width="0.18">PE</text>
<line x1="94.92" y1="207.30" x2="94.92" y2="210.10" stroke="#111" stroke-width="0.9"/>
<text x="94.92" y="215.80" font-size="4.9" text-anchor="middle" fill="#222" font-weight="normal" font-style="normal" stroke="#222" stroke-width="0.18">T</text>
<line x1="103.96" y1="207.30" x2="103.96" y2="210.10" stroke="#111" stroke-width="0.9"/>
<text x="103.96" y="215.80" font-size="4.9" text-anchor="middle" fill="#222" font-weight="normal" font-style="normal" stroke="#222" stroke-width="0.18">T</text>
<line x1="113.00" y1="207.30" x2="113.00" y2="210.10" stroke="#111" stroke-width="0.9"/>
<text x="113.00" y="215.80" font-size="4.9" text-anchor="middle" fill="#222" font-weight="normal" font-style="normal" stroke="#222" stroke-width="0.18">PE</text>
<line x1="122.04" y1="207.30" x2="122.04" y2="210.10" stroke="#111" stroke-width="0.9"/>
<text x="122.04" y="215.80" font-size="4.9" text-anchor="middle" fill="#222" font-weight="normal" font-style="normal" stroke="#222" stroke-width="0.18">PE</text>
<line x1="131.08" y1="207.30" x2="131.08" y2="210.10" stroke="#111" stroke-width="0.9"/>
<text x="131.08" y="215.80" font-size="4.9" text-anchor="middle" fill="#222" font-weight="normal" font-style="normal" stroke="#222" stroke-width="0.18">T</text>
<line x1="140.12" y1="207.30" x2="140.12" y2="210.10" stroke="#111" stroke-width="0.9"/>
<text x="140.12" y="215.80" font-size="4.9" text-anchor="middle" fill="#222" font-weight="normal" font-style="normal" stroke="#222" stroke-width="0.18">T</text>
<line x1="149.16" y1="207.30" x2="149.16" y2="210.10" stroke="#111" stroke-width="0.9"/>
<text x="149.16" y="215.80" font-size="4.9" text-anchor="middle" fill="#222" font-weight="normal" font-style="normal" stroke="#222" stroke-width="0.18">PE</text>
<line x1="158.20" y1="207.30" x2="158.20" y2="210.10" stroke="#111" stroke-width="0.9"/>
<text x="158.20" y="215.80" font-size="4.9" text-anchor="middle" fill="#222" font-weight="normal" font-style="normal" stroke="#222" stroke-width="0.18">PE</text>
<line x1="167.24" y1="207.30" x2="167.24" y2="210.10" stroke="#111" stroke-width="0.9"/>
<text x="167.24" y="215.80" font-size="4.9" text-anchor="middle" fill="#222" font-weight="normal" font-style="normal" stroke="#222" stroke-width="0.18">T</text>
<line x1="176.28" y1="207.30" x2="176.28" y2="210.10" stroke="#111" stroke-width="0.9"/>
<text x="176.28" y="215.80" font-size="4.9" text-anchor="middle" fill="#222" font-weight="normal" font-style="normal" stroke="#222" stroke-width="0.18">T</text>
<line x1="185.32" y1="207.30" x2="185.32" y2="210.10" stroke="#111" stroke-width="0.9"/>
<text x="185.32" y="215.80" font-size="4.9" text-anchor="middle" fill="#222" font-weight="normal" font-style="normal" stroke="#222" stroke-width="0.18">PE</text>
<line x1="194.36" y1="207.30" x2="194.36" y2="210.10" stroke="#111" stroke-width="0.9"/>
<text x="194.36" y="215.80" font-size="4.9" text-anchor="middle" fill="#222" font-weight="normal" font-style="normal" stroke="#222" stroke-width="0.18">PE</text>
<line x1="203.40" y1="207.30" x2="203.40" y2="210.10" stroke="#111" stroke-width="0.9"/>
<text x="203.40" y="215.80" font-size="4.9" text-anchor="middle" fill="#222" font-weight="normal" font-style="normal" stroke="#222" stroke-width="0.18">T</text>
<line x1="212.44" y1="207.30" x2="212.44" y2="210.10" stroke="#111" stroke-width="0.9"/>
<text x="212.44" y="215.80" font-size="4.9" text-anchor="middle" fill="#222" font-weight="normal" font-style="normal" stroke="#222" stroke-width="0.18">T</text>
<line x1="221.48" y1="207.30" x2="221.48" y2="210.10" stroke="#111" stroke-width="0.9"/>
<text x="221.48" y="215.80" font-size="4.9" text-anchor="middle" fill="#222" font-weight="normal" font-style="normal" stroke="#222" stroke-width="0.18">PE</text>
<line x1="230.52" y1="207.30" x2="230.52" y2="210.10" stroke="#111" stroke-width="0.9"/>
<text x="230.52" y="215.80" font-size="4.9" text-anchor="middle" fill="#222" font-weight="normal" font-style="normal" stroke="#222" stroke-width="0.18">PE</text>
<line x1="239.56" y1="207.30" x2="239.56" y2="210.10" stroke="#111" stroke-width="0.9"/>
<text x="239.56" y="215.80" font-size="4.9" text-anchor="middle" fill="#222" font-weight="normal" font-style="normal" stroke="#222" stroke-width="0.18">T</text>
<line x1="248.60" y1="207.30" x2="248.60" y2="210.10" stroke="#111" stroke-width="0.9"/>
<text x="248.60" y="215.80" font-size="4.9" text-anchor="middle" fill="#222" font-weight="normal" font-style="normal" stroke="#222" stroke-width="0.18">T</text>
<line x1="257.64" y1="207.30" x2="257.64" y2="210.10" stroke="#111" stroke-width="0.9"/>
<text x="257.64" y="215.80" font-size="4.9" text-anchor="middle" fill="#222" font-weight="normal" font-style="normal" stroke="#222" stroke-width="0.18">PE</text>
<text x="27.10" y="138.10" font-size="4.6" text-anchor="middle" fill="#333" font-weight="normal" font-style="normal" stroke="#333" stroke-width="0.18">G1</text>
<text x="49.80" y="138.10" font-size="4.6" text-anchor="middle" fill="#333" font-weight="normal" font-style="normal" stroke="#333" stroke-width="0.18">G2</text>
<text x="77.30" y="138.10" font-size="4.6" text-anchor="middle" fill="#333" font-weight="normal" font-style="normal" stroke="#333" stroke-width="0.18">G3</text>
<text x="108.40" y="138.10" font-size="4.6" text-anchor="middle" fill="#333" font-weight="normal" font-style="normal" stroke="#333" stroke-width="0.18">G4</text>
<text x="144.70" y="138.10" font-size="4.6" text-anchor="middle" fill="#333" font-weight="normal" font-style="normal" stroke="#333" stroke-width="0.18">G5</text>
<text x="180.80" y="138.10" font-size="4.6" text-anchor="middle" fill="#333" font-weight="normal" font-style="normal" stroke="#333" stroke-width="0.18">G6</text>
<text x="216.90" y="138.10" font-size="4.6" text-anchor="middle" fill="#333" font-weight="normal" font-style="normal" stroke="#333" stroke-width="0.18">G7</text>
<text x="248.50" y="138.10" font-size="4.6" text-anchor="middle" fill="#333" font-weight="normal" font-style="normal" stroke="#333" stroke-width="0.18">G8</text>
<text x="5.30" y="174.40" font-size="5.5" text-anchor="middle" fill="#222" font-weight="normal" font-style="normal" transform="rotate(-90 5.3 174.4)" stroke="#222" stroke-width="0.18">VAF, %</text>
<polyline points="22.70,141.00 31.60,143.20" fill="none" stroke="#D62A3A" stroke-width="0.85" stroke-dasharray="1.2,0.8"/>
<polyline points="22.70,147.60 31.60,147.60" fill="none" stroke="#7B2BDB" stroke-width="0.85" stroke-dasharray="1.2,0.8"/>
<polyline points="22.70,170.60 31.60,174.60" fill="none" stroke="#D62A3A" stroke-width="0.85"/>
<polyline points="22.70,181.60 31.60,179.90" fill="none" stroke="#D62A3A" stroke-width="0.85"/>
<polyline points="22.70,181.60 31.60,186.60" fill="none" stroke="#333333" stroke-width="0.85"/>
<polyline points="40.90,150.70 49.80,154.70 58.80,155.60" fill="none" stroke="#7B2BDB" stroke-width="0.85" stroke-dasharray="1.2,0.8"/>
<polyline points="68.60,143.60 77.00,149.30 86.90,144.30" fill="none" stroke="#DC2A80" stroke-width="0.85"/>
<polyline points="68.60,146.70 77.00,151.00 86.90,147.00" fill="none" stroke="#7B2BDB" stroke-width="0.85"/>
<polyline points="68.60,149.60 77.00,156.90 86.90,145.50" fill="none" stroke="#333333" stroke-width="0.85"/>
<polyline points="97.20,151.00 102.20,156.20 105.80,156.50 121.90,149.60 123.90,147.00" fill="none" stroke="#3B8DE3" stroke-width="0.85" stroke-dasharray="1.2,0.8"/>
<polyline points="102.50,156.00 110.90,199.30 120.20,145.00" fill="none" stroke="#1E7B47" stroke-width="0.85" stroke-dasharray="1.2,0.8"/>
<polyline points="94.50,154.00 103.50,157.00 123.90,147.50" fill="none" stroke="#7B2BDB" stroke-width="0.85" stroke-dasharray="1.2,0.8"/>
<polyline points="129.00,148.30 138.50,155.20 147.10,181.60 156.80,158.90" fill="none" stroke="#7B2BDB" stroke-width="0.85"/>
<polyline points="169.00,158.90 177.60,164.90 186.90,153.60 196.20,165.50" fill="none" stroke="#7B2BDB" stroke-width="0.85"/>
<polyline points="165.40,160.90 174.30,161.60 183.30,154.70 192.60,166.90" fill="none" stroke="#F3A444" stroke-width="0.85"/>
<polyline points="169.00,159.00 176.20,184.90" fill="none" stroke="#D62A3A" stroke-width="0.85" stroke-dasharray="1.2,0.8"/>
<polyline points="176.20,177.90 194.40,177.00" fill="none" stroke="#333333" stroke-width="0.85" stroke-dasharray="1.2,0.8"/>
<polyline points="167.20,184.90 185.50,184.70 194.40,182.30" fill="none" stroke="#333333" stroke-width="0.85" stroke-dasharray="1.2,0.8"/>
<polyline points="167.60,195.50 176.90,200.90 186.90,197.50 194.80,194.20" fill="none" stroke="#E8622A" stroke-width="0.85" stroke-dasharray="1.2,0.8"/>
<polyline points="176.20,196.20 185.50,184.70" fill="none" stroke="#1E7B47" stroke-width="0.85" stroke-dasharray="1.2,0.8"/>
<polyline points="176.20,189.20 194.40,188.90" fill="none" stroke="#DC2A80" stroke-width="0.85" stroke-dasharray="1.2,0.8"/>
<polyline points="167.60,195.50 194.40,182.30" fill="none" stroke="#DC2A80" stroke-width="0.85" stroke-dasharray="1.2,0.8"/>
<polyline points="176.20,196.20 194.40,185.60" fill="none" stroke="#1E7B47" stroke-width="0.85" stroke-dasharray="1.2,0.8"/>
<polyline points="167.20,189.60 185.50,192.20 194.40,188.90" fill="none" stroke="#D62A3A" stroke-width="0.85" stroke-dasharray="1.2,0.8"/>
<polyline points="167.60,195.50 176.20,184.90" fill="none" stroke="#333333" stroke-width="0.85" stroke-dasharray="1.2,0.8"/>
<polyline points="212.20,178.50 221.00,158.00 231.00,170.50" fill="none" stroke="#3B8DE3" stroke-width="0.85" stroke-dasharray="1.2,0.8"/>
<polyline points="203.50,190.50 212.50,182.00" fill="none" stroke="#333333" stroke-width="0.85"/>
<polyline points="205.10,145.80 212.50,181.50 219.50,157.70 230.70,169.50" fill="none" stroke="#7B2BDB" stroke-width="0.85" stroke-dasharray="1.2,0.8"/>
<polyline points="205.10,146.50 214.50,181.50 222.80,157.70 232.50,171.00" fill="none" stroke="#7B2BDB" stroke-width="0.85" stroke-dasharray="1.2,0.8"/>
<polyline points="202.40,145.10 229.30,197.30" fill="none" stroke="#1E7B47" stroke-width="0.85"/>
<polyline points="201.00,189.20 213.20,181.20" fill="none" stroke="#333333" stroke-width="0.85"/>
<polyline points="212.20,199.70 231.30,174.40" fill="none" stroke="#DC2A80" stroke-width="0.85"/>
<polyline points="219.90,158.10 228.60,170.70" fill="none" stroke="#1E7B47" stroke-width="0.85"/>
<polyline points="239.40,140.70 248.20,141.70 256.90,151.20" fill="none" stroke="#D62A3A" stroke-width="0.85" stroke-dasharray="1.2,0.8"/>
<polyline points="239.40,145.10 248.20,145.10 256.90,171.30" fill="none" stroke="#1E7B47" stroke-width="0.85" stroke-dasharray="1.2,0.8"/>
<polyline points="239.40,148.50 248.20,148.50 256.90,168.40" fill="none" stroke="#7B2BDB" stroke-width="0.85"/>
<polygon points="22.70,142.43 24.59,139.90 20.81,139.90" fill="#D62A3A"/>
<polygon points="31.60,144.63 33.48,142.09 29.71,142.09" fill="#D62A3A"/>
<circle cx="22.70" cy="147.60" r="1.46" fill="#7B2BDB"/>
<circle cx="31.60" cy="147.60" r="1.46" fill="#7B2BDB"/>
<rect x="21.40" y="169.30" width="2.60" height="2.60" fill="#1E7B47"/>
<polygon points="24.50,173.23 26.39,170.70 22.61,170.70" fill="#D62A3A"/>
<polygon points="31.60,176.03 33.48,173.50 29.71,173.50" fill="#D62A3A"/>
<polygon points="22.70,183.03 24.59,180.50 20.81,180.50" fill="#D62A3A"/>
<polygon points="31.60,181.33 33.48,178.80 29.71,178.80" fill="#D62A3A"/>
<circle cx="31.60" cy="186.60" r="1.46" fill="#333333"/>
<circle cx="22.70" cy="204.80" r="1.46" fill="#333333"/>
<circle cx="31.60" cy="200.90" r="1.46" fill="#333333"/>
<circle cx="40.90" cy="150.70" r="1.46" fill="#7B2BDB"/>
<circle cx="49.80" cy="154.70" r="1.46" fill="#7B2BDB"/>
<circle cx="58.80" cy="155.60" r="1.46" fill="#7B2BDB"/>
<circle cx="40.90" cy="175.40" r="1.46" fill="#333333"/>
<rect x="39.60" y="180.30" width="2.60" height="2.60" fill="#1E7B47"/>
<polygon points="40.90,198.77 42.78,201.30 39.02,201.30" fill="#E046E0"/>
<circle cx="49.80" cy="197.50" r="1.46" fill="#333333"/>
<circle cx="58.80" cy="197.50" r="1.46" fill="#333333"/>
<polygon points="58.80,168.57 60.42,170.20 58.80,171.82 57.17,170.20" fill="#F3A444"/>
<rect x="67.30" y="142.30" width="2.60" height="2.60" fill="#DC2A80"/>
<circle cx="69.50" cy="144.00" r="1.46" fill="#333333"/>
<rect x="75.70" y="148.00" width="2.60" height="2.60" fill="#DC2A80"/>
<rect x="85.60" y="143.00" width="2.60" height="2.60" fill="#DC2A80"/>
<circle cx="68.60" cy="146.70" r="1.46" fill="#7B2BDB"/>
<circle cx="77.00" cy="151.00" r="1.46" fill="#7B2BDB"/>
<circle cx="86.90" cy="147.00" r="1.46" fill="#7B2BDB"/>
<rect x="75.70" y="150.30" width="2.60" height="2.60" fill="#1E7B47"/>
<circle cx="68.60" cy="149.60" r="1.46" fill="#333333"/>
<circle cx="77.00" cy="156.90" r="1.46" fill="#333333"/>
<circle cx="86.90" cy="145.50" r="1.46" fill="#333333"/>
<circle cx="68.60" cy="201.50" r="1.46" fill="#333333"/>
<polygon points="77.00,197.63 78.89,195.09 75.11,195.09" fill="#D62A3A"/>
<circle cx="85.90" cy="179.00" r="1.46" fill="#333333"/>
<circle cx="85.90" cy="182.30" r="1.46" fill="#333333"/>
<rect x="91.90" y="148.60" width="2.60" height="2.60" fill="#1E7B47"/>
<circle cx="94.50" cy="154.00" r="1.46" fill="#7B2BDB"/>
<rect x="95.90" y="149.70" width="2.60" height="2.60" fill="#3B8DE3"/>
<rect x="100.90" y="154.90" width="2.60" height="2.60" fill="#3B8DE3"/>
<rect x="104.50" y="155.20" width="2.60" height="2.60" fill="#3B8DE3"/>
<rect x="120.60" y="148.30" width="2.60" height="2.60" fill="#3B8DE3"/>
<rect x="122.60" y="145.70" width="2.60" height="2.60" fill="#3B8DE3"/>
<rect x="118.90" y="143.70" width="2.60" height="2.60" fill="#1E7B47"/>
<circle cx="121.90" cy="154.70" r="1.46" fill="#333333"/>
<rect x="120.60" y="168.90" width="2.60" height="2.60" fill="#3B8DE3"/>
<polygon points="104.00,194.93 105.89,192.40 102.11,192.40" fill="#D62A3A"/>
<rect x="109.60" y="198.00" width="2.60" height="2.60" fill="#1E7B47"/>
<circle cx="122.30" cy="196.20" r="1.46" fill="#333333"/>
<circle cx="123.60" cy="198.90" r="1.46" fill="#333333"/>
<circle cx="129.00" cy="148.30" r="1.46" fill="#7B2BDB"/>
<circle cx="138.50" cy="155.20" r="1.46" fill="#7B2BDB"/>
<circle cx="147.10" cy="181.60" r="1.46" fill="#7B2BDB"/>
<circle cx="156.80" cy="158.90" r="1.46" fill="#7B2BDB"/>
<rect x="138.50" y="173.70" width="2.60" height="2.60" fill="#DC2A80"/>
<rect x="137.70" y="177.00" width="2.60" height="2.60" fill="#DC2A80"/>
<rect x="139.70" y="178.30" width="2.60" height="2.60" fill="#DC2A80"/>
<rect x="138.50" y="186.90" width="2.60" height="2.60" fill="#DC2A80"/>
<rect x="138.50" y="191.60" width="2.60" height="2.60" fill="#DC2A80"/>
<rect x="149.70" y="186.90" width="2.60" height="2.60" fill="#DC2A80"/>
<rect x="147.70" y="191.30" width="2.60" height="2.60" fill="#DC2A80"/>
<rect x="156.50" y="166.40" width="2.60" height="2.60" fill="#DC2A80"/>
<rect x="158.20" y="166.40" width="2.60" height="2.60" fill="#DC2A80"/>
<rect x="156.50" y="177.00" width="2.60" height="2.60" fill="#DC2A80"/>
<polygon points="151.10,183.03 152.98,180.50 149.22,180.50" fill="#D62A3A"/>
<polygon points="167.00,155.03 168.88,152.50 165.12,152.50" fill="#D62A3A"/>
<circle cx="165.40" cy="160.90" r="1.43" fill="none" stroke="#17898A" stroke-width="0.78"/>
<polygon points="167.60,157.28 169.22,158.90 167.60,160.53 165.97,158.90" fill="#F3A444"/>
<circle cx="169.00" cy="158.90" r="1.46" fill="#7B2BDB"/>
<circle cx="174.30" cy="161.60" r="1.43" fill="none" stroke="#17898A" stroke-width="0.78"/>
<circle cx="177.60" cy="164.90" r="1.46" fill="#7B2BDB"/>
<circle cx="183.30" cy="154.70" r="1.43" fill="none" stroke="#17898A" stroke-width="0.78"/>
<circle cx="186.90" cy="153.60" r="1.46" fill="#7B2BDB"/>
<circle cx="192.60" cy="166.90" r="1.43" fill="none" stroke="#17898A" stroke-width="0.78"/>
<circle cx="196.20" cy="165.50" r="1.46" fill="#7B2BDB"/>
<circle cx="176.20" cy="177.90" r="1.46" fill="#333333"/>
<circle cx="194.40" cy="177.00" r="1.46" fill="#333333"/>
<circle cx="167.20" cy="184.90" r="1.46" fill="#333333"/>
<polygon points="167.20,191.03 169.08,188.50 165.31,188.50" fill="#D62A3A"/>
<rect x="166.30" y="194.20" width="2.60" height="2.60" fill="#DC2A80"/>
<rect x="174.90" y="183.60" width="2.60" height="2.60" fill="#DC2A80"/>
<rect x="174.90" y="187.90" width="2.60" height="2.60" fill="#DC2A80"/>
<rect x="184.20" y="183.40" width="2.60" height="2.60" fill="#1E7B47"/>
<rect x="174.90" y="194.90" width="2.60" height="2.60" fill="#1E7B47"/>
<rect x="193.10" y="181.00" width="2.60" height="2.60" fill="#DC2A80"/>
<rect x="193.10" y="184.30" width="2.60" height="2.60" fill="#DC2A80"/>
<rect x="193.10" y="187.60" width="2.60" height="2.60" fill="#DC2A80"/>
<circle cx="185.50" cy="192.20" r="1.46" fill="#333333"/>
<rect x="193.50" y="192.90" width="2.60" height="2.60" fill="#3B8DE3"/>
<polygon points="186.90,195.88 188.53,197.50 186.90,199.12 185.28,197.50" fill="#F3A444"/>
<polygon points="176.90,202.33 178.78,199.80 175.02,199.80" fill="#D62A3A"/>
<rect x="201.10" y="143.80" width="2.60" height="2.60" fill="#1E7B47"/>
<circle cx="205.10" cy="145.80" r="1.46" fill="#7B2BDB"/>
<circle cx="219.90" cy="158.10" r="1.46" fill="#7B2BDB"/>
<circle cx="222.60" cy="159.00" r="1.46" fill="#7B2BDB"/>
<rect x="227.30" y="169.40" width="2.60" height="2.60" fill="#1E7B47"/>
<circle cx="232.00" cy="169.70" r="1.46" fill="#7B2BDB"/>
<polygon points="231.30,176.13 233.19,173.59 229.42,173.59" fill="#D62A3A"/>
<circle cx="201.00" cy="189.20" r="1.46" fill="#333333"/>
<circle cx="213.20" cy="181.20" r="1.46" fill="#333333"/>
<circle cx="203.30" cy="193.30" r="1.46" fill="#333333"/>
<circle cx="213.00" cy="181.00" r="1.46" fill="#7B2BDB"/>
<rect x="210.90" y="198.40" width="2.60" height="2.60" fill="#DC2A80"/>
<rect x="217.90" y="185.00" width="2.60" height="2.60" fill="#1E7B47"/>
<rect x="220.60" y="187.30" width="2.60" height="2.60" fill="#DC2A80"/>
<circle cx="229.30" cy="197.30" r="1.46" fill="#333333"/>
<circle cx="231.60" cy="193.90" r="1.46" fill="#333333"/>
<polygon points="239.40,142.13 241.28,139.59 237.52,139.59" fill="#D62A3A"/>
<polygon points="248.20,143.13 250.08,140.59 246.31,140.59" fill="#D62A3A"/>
<polygon points="256.90,152.63 258.78,150.09 255.01,150.09" fill="#D62A3A"/>
<rect x="238.10" y="143.80" width="2.60" height="2.60" fill="#1E7B47"/>
<rect x="246.90" y="143.80" width="2.60" height="2.60" fill="#1E7B47"/>
<rect x="255.60" y="170.00" width="2.60" height="2.60" fill="#1E7B47"/>
<circle cx="239.40" cy="148.50" r="1.46" fill="#7B2BDB"/>
<circle cx="248.20" cy="148.50" r="1.46" fill="#7B2BDB"/>
<circle cx="256.90" cy="168.40" r="1.46" fill="#7B2BDB"/>
<rect x="246.90" y="162.00" width="2.60" height="2.60" fill="#DC2A80"/>
<circle cx="248.20" cy="167.00" r="1.43" fill="none" stroke="#17898A" stroke-width="0.78"/>
<circle cx="239.40" cy="189.50" r="1.46" fill="#333333"/>
<rect x="246.90" y="179.20" width="2.60" height="2.60" fill="#DC2A80"/>
<polygon points="248.20,194.73 250.08,192.20 246.31,192.20" fill="#D62A3A"/>
<polygon points="248.20,198.73 250.08,196.20 246.31,196.20" fill="#D62A3A"/>
<circle cx="257.20" cy="198.60" r="1.46" fill="#333333"/>
<circle cx="257.20" cy="200.70" r="1.46" fill="#333333"/>
<text x="409.60" y="129.20" font-size="6.45" text-anchor="middle" fill="#222" font-weight="normal" font-style="normal" stroke="#222" stroke-width="0.18">Astrocytoma</text>
<line x1="367.30" y1="140.00" x2="367.30" y2="207.00" stroke="#c8c8c8" stroke-width="0.6"/>
<line x1="395.90" y1="140.00" x2="395.90" y2="207.00" stroke="#c8c8c8" stroke-width="0.6"/>
<line x1="433.90" y1="140.00" x2="433.90" y2="207.00" stroke="#c8c8c8" stroke-width="0.6"/>
<line x1="453.30" y1="140.00" x2="453.30" y2="207.00" stroke="#c8c8c8" stroke-width="0.6"/>
<line x1="472.20" y1="140.00" x2="472.20" y2="207.00" stroke="#c8c8c8" stroke-width="0.6"/>
<line x1="490.80" y1="140.00" x2="490.80" y2="207.00" stroke="#c8c8c8" stroke-width="0.6"/>
<line x1="328.90" y1="167.00" x2="490.80" y2="167.00" stroke="#c6c6c6" stroke-width="0.7" stroke-dasharray="1.6,1.1"/>
<line x1="328.90" y1="181.30" x2="490.80" y2="181.30" stroke="#bdbdbd" stroke-width="0.6"/>
<line x1="328.90" y1="140.00" x2="328.90" y2="207.00" stroke="#111" stroke-width="1.15"/>
<line x1="326.50" y1="201.30" x2="328.90" y2="201.30" stroke="#111" stroke-width="0.9"/>
<text x="325.90" y="203.05" font-size="5.1" text-anchor="end" fill="#222" font-weight="normal" font-style="normal" stroke="#222" stroke-width="0.18">0.1</text>
<line x1="327.70" y1="195.28" x2="328.90" y2="195.28" stroke="#111" stroke-width="0.5"/>
<line x1="327.70" y1="191.76" x2="328.90" y2="191.76" stroke="#111" stroke-width="0.5"/>
<line x1="327.70" y1="189.26" x2="328.90" y2="189.26" stroke="#111" stroke-width="0.5"/>
<line x1="327.70" y1="187.32" x2="328.90" y2="187.32" stroke="#111" stroke-width="0.5"/>
<line x1="327.70" y1="185.74" x2="328.90" y2="185.74" stroke="#111" stroke-width="0.5"/>
<line x1="327.70" y1="184.40" x2="328.90" y2="184.40" stroke="#111" stroke-width="0.5"/>
<line x1="327.70" y1="183.24" x2="328.90" y2="183.24" stroke="#111" stroke-width="0.5"/>
<line x1="327.70" y1="182.22" x2="328.90" y2="182.22" stroke="#111" stroke-width="0.5"/>
<line x1="326.50" y1="181.30" x2="328.90" y2="181.30" stroke="#111" stroke-width="0.9"/>
<text x="325.90" y="183.05" font-size="5.1" text-anchor="end" fill="#222" font-weight="normal" font-style="normal" stroke="#222" stroke-width="0.18">1</text>
<line x1="327.70" y1="175.28" x2="328.90" y2="175.28" stroke="#111" stroke-width="0.5"/>
<line x1="327.70" y1="171.76" x2="328.90" y2="171.76" stroke="#111" stroke-width="0.5"/>
<line x1="327.70" y1="169.26" x2="328.90" y2="169.26" stroke="#111" stroke-width="0.5"/>
<line x1="327.70" y1="167.32" x2="328.90" y2="167.32" stroke="#111" stroke-width="0.5"/>
<line x1="327.70" y1="165.74" x2="328.90" y2="165.74" stroke="#111" stroke-width="0.5"/>
<line x1="327.70" y1="164.40" x2="328.90" y2="164.40" stroke="#111" stroke-width="0.5"/>
<line x1="327.70" y1="163.24" x2="328.90" y2="163.24" stroke="#111" stroke-width="0.5"/>
<line x1="327.70" y1="162.22" x2="328.90" y2="162.22" stroke="#111" stroke-width="0.5"/>
<line x1="326.50" y1="161.30" x2="328.90" y2="161.30" stroke="#111" stroke-width="0.9"/>
<text x="325.90" y="163.05" font-size="5.1" text-anchor="end" fill="#222" font-weight="normal" font-style="normal" stroke="#222" stroke-width="0.18">10</text>
<line x1="327.70" y1="155.28" x2="328.90" y2="155.28" stroke="#111" stroke-width="0.5"/>
<line x1="327.70" y1="151.76" x2="328.90" y2="151.76" stroke="#111" stroke-width="0.5"/>
<line x1="327.70" y1="149.26" x2="328.90" y2="149.26" stroke="#111" stroke-width="0.5"/>
<line x1="327.70" y1="147.32" x2="328.90" y2="147.32" stroke="#111" stroke-width="0.5"/>
<line x1="327.70" y1="145.74" x2="328.90" y2="145.74" stroke="#111" stroke-width="0.5"/>
<line x1="327.70" y1="144.40" x2="328.90" y2="144.40" stroke="#111" stroke-width="0.5"/>
<line x1="327.70" y1="143.24" x2="328.90" y2="143.24" stroke="#111" stroke-width="0.5"/>
<line x1="327.70" y1="142.22" x2="328.90" y2="142.22" stroke="#111" stroke-width="0.5"/>
<line x1="326.50" y1="141.30" x2="328.90" y2="141.30" stroke="#111" stroke-width="0.9"/>
<text x="325.90" y="143.05" font-size="5.1" text-anchor="end" fill="#222" font-weight="normal" font-style="normal" stroke="#222" stroke-width="0.18">100</text>
<line x1="327.70" y1="205.74" x2="328.90" y2="205.74" stroke="#111" stroke-width="0.5"/>
<line x1="327.70" y1="204.40" x2="328.90" y2="204.40" stroke="#111" stroke-width="0.5"/>
<line x1="327.70" y1="203.24" x2="328.90" y2="203.24" stroke="#111" stroke-width="0.5"/>
<line x1="327.70" y1="202.22" x2="328.90" y2="202.22" stroke="#111" stroke-width="0.5"/>
<line x1="328.30" y1="207.00" x2="490.80" y2="207.00" stroke="#111" stroke-width="1.3"/>
<line x1="333.60" y1="207.00" x2="333.60" y2="209.80" stroke="#111" stroke-width="0.9"/>
<text x="333.60" y="215.80" font-size="4.9" text-anchor="middle" fill="#222" font-weight="normal" font-style="normal" stroke="#222" stroke-width="0.18">T</text>
<line x1="343.15" y1="207.00" x2="343.15" y2="209.80" stroke="#111" stroke-width="0.9"/>
<text x="343.15" y="215.80" font-size="4.9" text-anchor="middle" fill="#222" font-weight="normal" font-style="normal" stroke="#222" stroke-width="0.18">T</text>
<line x1="352.70" y1="207.00" x2="352.70" y2="209.80" stroke="#111" stroke-width="0.9"/>
<text x="352.70" y="215.80" font-size="4.9" text-anchor="middle" fill="#222" font-weight="normal" font-style="normal" stroke="#222" stroke-width="0.18">PE</text>
<line x1="362.25" y1="207.00" x2="362.25" y2="209.80" stroke="#111" stroke-width="0.9"/>
<text x="362.25" y="215.80" font-size="4.9" text-anchor="middle" fill="#222" font-weight="normal" font-style="normal" stroke="#222" stroke-width="0.18">PE</text>
<line x1="371.80" y1="207.00" x2="371.80" y2="209.80" stroke="#111" stroke-width="0.9"/>
<text x="371.80" y="215.80" font-size="4.9" text-anchor="middle" fill="#222" font-weight="normal" font-style="normal" stroke="#222" stroke-width="0.18">T</text>
<line x1="381.35" y1="207.00" x2="381.35" y2="209.80" stroke="#111" stroke-width="0.9"/>
<text x="381.35" y="215.80" font-size="4.9" text-anchor="middle" fill="#222" font-weight="normal" font-style="normal" stroke="#222" stroke-width="0.18">PE</text>
<line x1="390.90" y1="207.00" x2="390.90" y2="209.80" stroke="#111" stroke-width="0.9"/>
<text x="390.90" y="215.80" font-size="4.9" text-anchor="middle" fill="#222" font-weight="normal" font-style="normal" stroke="#222" stroke-width="0.18">PE</text>
<line x1="400.45" y1="207.00" x2="400.45" y2="209.80" stroke="#111" stroke-width="0.9"/>
<text x="400.45" y="215.80" font-size="4.9" text-anchor="middle" fill="#222" font-weight="normal" font-style="normal" stroke="#222" stroke-width="0.18">T</text>
<line x1="410.00" y1="207.00" x2="410.00" y2="209.80" stroke="#111" stroke-width="0.9"/>
<text x="410.00" y="215.80" font-size="4.9" text-anchor="middle" fill="#222" font-weight="normal" font-style="normal" stroke="#222" stroke-width="0.18">T</text>
<line x1="419.55" y1="207.00" x2="419.55" y2="209.80" stroke="#111" stroke-width="0.9"/>
<text x="419.55" y="215.80" font-size="4.9" text-anchor="middle" fill="#222" font-weight="normal" font-style="normal" stroke="#222" stroke-width="0.18">PE</text>
<line x1="429.10" y1="207.00" x2="429.10" y2="209.80" stroke="#111" stroke-width="0.9"/>
<text x="429.10" y="215.80" font-size="4.9" text-anchor="middle" fill="#222" font-weight="normal" font-style="normal" stroke="#222" stroke-width="0.18">PE</text>
<line x1="438.65" y1="207.00" x2="438.65" y2="209.80" stroke="#111" stroke-width="0.9"/>
<text x="438.65" y="215.80" font-size="4.9" text-anchor="middle" fill="#222" font-weight="normal" font-style="normal" stroke="#222" stroke-width="0.18">T</text>
<line x1="448.20" y1="207.00" x2="448.20" y2="209.80" stroke="#111" stroke-width="0.9"/>
<text x="448.20" y="215.80" font-size="4.9" text-anchor="middle" fill="#222" font-weight="normal" font-style="normal" stroke="#222" stroke-width="0.18">PE</text>
<line x1="457.75" y1="207.00" x2="457.75" y2="209.80" stroke="#111" stroke-width="0.9"/>
<text x="457.75" y="215.80" font-size="4.9" text-anchor="middle" fill="#222" font-weight="normal" font-style="normal" stroke="#222" stroke-width="0.18">T</text>
<line x1="467.30" y1="207.00" x2="467.30" y2="209.80" stroke="#111" stroke-width="0.9"/>
<text x="467.30" y="215.80" font-size="4.9" text-anchor="middle" fill="#222" font-weight="normal" font-style="normal" stroke="#222" stroke-width="0.18">T</text>
<line x1="476.85" y1="207.00" x2="476.85" y2="209.80" stroke="#111" stroke-width="0.9"/>
<text x="476.85" y="215.80" font-size="4.9" text-anchor="middle" fill="#222" font-weight="normal" font-style="normal" stroke="#222" stroke-width="0.18">T</text>
<line x1="486.40" y1="207.00" x2="486.40" y2="209.80" stroke="#111" stroke-width="0.9"/>
<text x="486.40" y="215.80" font-size="4.9" text-anchor="middle" fill="#222" font-weight="normal" font-style="normal" stroke="#222" stroke-width="0.18">PE</text>
<text x="347.80" y="138.00" font-size="4.6" text-anchor="middle" fill="#333" font-weight="normal" font-style="normal" stroke="#333" stroke-width="0.18">A1</text>
<text x="381.40" y="138.00" font-size="4.6" text-anchor="middle" fill="#333" font-weight="normal" font-style="normal" stroke="#333" stroke-width="0.18">A2</text>
<text x="415.80" y="138.00" font-size="4.6" text-anchor="middle" fill="#333" font-weight="normal" font-style="normal" stroke="#333" stroke-width="0.18">A3</text>
<text x="443.70" y="138.00" font-size="4.6" text-anchor="middle" fill="#333" font-weight="normal" font-style="normal" stroke="#333" stroke-width="0.18">A4</text>
<text x="462.70" y="138.00" font-size="4.6" text-anchor="middle" fill="#333" font-weight="normal" font-style="normal" stroke="#333" stroke-width="0.18">A5</text>
<text x="481.40" y="138.00" font-size="4.6" text-anchor="middle" fill="#333" font-weight="normal" font-style="normal" stroke="#333" stroke-width="0.18">A6</text>
<text x="313.20" y="176.60" font-size="5.5" text-anchor="middle" fill="#222" font-weight="normal" font-style="normal" transform="rotate(-90 313.2 176.6)" stroke="#222" stroke-width="0.18">VAF, %</text>
<line x1="328.80" y1="217.50" x2="366.30" y2="217.50" stroke="#444" stroke-width="0.75"/>
<text x="347.55" y="224.70" font-size="5.3" text-anchor="middle" fill="#222" font-weight="normal" font-style="normal" stroke="#222" stroke-width="0.18">Grade 4</text>
<line x1="367.90" y1="217.50" x2="468.80" y2="217.50" stroke="#444" stroke-width="0.75"/>
<text x="418.35" y="224.70" font-size="5.3" text-anchor="middle" fill="#222" font-weight="normal" font-style="normal" stroke="#222" stroke-width="0.18">Grade 3</text>
<line x1="472.20" y1="217.50" x2="491.00" y2="217.50" stroke="#444" stroke-width="0.75"/>
<text x="481.60" y="224.70" font-size="5.3" text-anchor="middle" fill="#222" font-weight="normal" font-style="normal" stroke="#222" stroke-width="0.18">Grade 2</text>
<circle cx="269.30" cy="135.70" r="2.02" fill="#7B2BDB"/>
<text x="273.80" y="137.40" font-size="4.6" text-anchor="start" fill="#222" font-weight="normal" font-style="italic" stroke="#222" stroke-width="0.12">TERT</text>
<circle cx="269.30" cy="143.64" r="2.02" fill="#E8622A"/>
<text x="273.80" y="145.34" font-size="4.6" text-anchor="start" fill="#222" font-weight="normal" font-style="italic" stroke="#222" stroke-width="0.12">IDH</text>
<rect x="267.50" y="149.78" width="3.60" height="3.60" fill="#3B8DE3"/>
<text x="273.80" y="153.28" font-size="4.6" text-anchor="start" fill="#222" font-weight="normal" font-style="italic" stroke="#222" stroke-width="0.12">TP53</text>
<rect x="267.50" y="157.72" width="3.60" height="3.60" fill="#1E7B47"/>
<text x="273.80" y="161.22" font-size="4.6" text-anchor="start" fill="#222" font-weight="normal" font-style="italic" stroke="#222" stroke-width="0.12">PTEN</text>
<rect x="267.50" y="165.66" width="3.60" height="3.60" fill="#DC2A80"/>
<text x="273.80" y="169.16" font-size="4.6" text-anchor="start" fill="#222" font-weight="normal" font-style="italic" stroke="#222" stroke-width="0.12">NF1</text>
<polygon points="269.30,173.15 271.55,175.40 269.30,177.65 267.05,175.40" fill="#F3A444"/>
<text x="273.80" y="177.10" font-size="4.6" text-anchor="start" fill="#222" font-weight="normal" font-style="italic" stroke="#222" stroke-width="0.12">MTOR</text>
<polygon points="269.30,181.36 271.91,184.87 266.69,184.87" fill="#E046E0"/>
<text x="273.80" y="185.04" font-size="4.6" text-anchor="start" fill="#222" font-weight="normal" font-style="normal" stroke="#222" stroke-width="0.12">CIC</text>
<polygon points="269.30,193.26 271.91,189.75 266.69,189.75" fill="#D62A3A"/>
<text x="273.80" y="192.98" font-size="4.6" text-anchor="start" fill="#222" font-weight="normal" font-style="italic" stroke="#222" stroke-width="0.12">EGFR</text>
<circle cx="269.30" cy="199.22" r="1.98" fill="none" stroke="#17898A" stroke-width="1.08"/>
<text x="273.80" y="200.92" font-size="4.6" text-anchor="start" fill="#222" font-weight="normal" font-style="italic" stroke="#222" stroke-width="0.12">PIK3CA</text>
<circle cx="269.30" cy="207.16" r="2.02" fill="#333333"/>
<text x="273.80" y="208.86" font-size="4.6" text-anchor="start" fill="#222" font-weight="normal" font-style="normal" stroke="#222" stroke-width="0.12">Other</text>
<circle cx="500.30" cy="135.60" r="2.02" fill="#7B2BDB"/>
<text x="504.80" y="137.30" font-size="4.6" text-anchor="start" fill="#222" font-weight="normal" font-style="italic" stroke="#222" stroke-width="0.12">TERT</text>
<circle cx="500.30" cy="143.50" r="2.02" fill="#E8622A"/>
<text x="504.80" y="145.20" font-size="4.6" text-anchor="start" fill="#222" font-weight="normal" font-style="italic" stroke="#222" stroke-width="0.12">IDH</text>
<rect x="498.50" y="149.60" width="3.60" height="3.60" fill="#3B8DE3"/>
<text x="504.80" y="153.10" font-size="4.6" text-anchor="start" fill="#222" font-weight="normal" font-style="italic" stroke="#222" stroke-width="0.12">TP53</text>
<rect x="498.50" y="157.50" width="3.60" height="3.60" fill="#1E7B47"/>
<text x="504.80" y="161.00" font-size="4.6" text-anchor="start" fill="#222" font-weight="normal" font-style="italic" stroke="#222" stroke-width="0.12">PTEN</text>
<rect x="498.50" y="165.40" width="3.60" height="3.60" fill="#DC2A80"/>
<text x="504.80" y="168.90" font-size="4.6" text-anchor="start" fill="#222" font-weight="normal" font-style="italic" stroke="#222" stroke-width="0.12">NF1</text>
<polygon points="500.30,172.85 502.55,175.10 500.30,177.35 498.05,175.10" fill="#F3A444"/>
<text x="504.80" y="176.80" font-size="4.6" text-anchor="start" fill="#222" font-weight="normal" font-style="italic" stroke="#222" stroke-width="0.12">MTOR</text>
<polygon points="500.30,181.02 502.91,184.53 497.69,184.53" fill="#E046E0"/>
<text x="504.80" y="184.70" font-size="4.6" text-anchor="start" fill="#222" font-weight="normal" font-style="normal" stroke="#222" stroke-width="0.12">CIC</text>
<polygon points="500.30,192.88 502.91,189.37 497.69,189.37" fill="#D62A3A"/>
<text x="504.80" y="192.60" font-size="4.6" text-anchor="start" fill="#222" font-weight="normal" font-style="italic" stroke="#222" stroke-width="0.12">EGFR</text>
<circle cx="500.30" cy="198.80" r="1.98" fill="none" stroke="#17898A" stroke-width="1.08"/>
<text x="504.80" y="200.50" font-size="4.6" text-anchor="start" fill="#222" font-weight="normal" font-style="italic" stroke="#222" stroke-width="0.12">PIK3CA</text>
<circle cx="500.30" cy="206.70" r="2.02" fill="#333333"/>
<text x="504.80" y="208.40" font-size="4.6" text-anchor="start" fill="#222" font-weight="normal" font-style="normal" stroke="#222" stroke-width="0.12">Other</text>
<polyline points="333.30,152.80 342.90,155.50 352.40,172.30 362.00,152.80" fill="none" stroke="#3B8DE3" stroke-width="0.85"/>
<polyline points="333.30,151.60 342.90,154.30 352.40,167.00 362.00,151.60" fill="none" stroke="#E8622A" stroke-width="0.85" stroke-dasharray="1.5,1.0"/>
<polyline points="333.30,197.30 342.90,159.60" fill="none" stroke="#17898A" stroke-width="0.85" stroke-dasharray="1.2,0.8"/>
<polyline points="333.30,170.20 362.00,201.60" fill="none" stroke="#333333" stroke-width="0.85" stroke-dasharray="1.5,0.8"/>
<polyline points="333.30,181.40 362.00,178.20" fill="none" stroke="#333333" stroke-width="0.85" stroke-dasharray="1.5,0.8"/>
<polyline points="371.90,143.10 381.40,142.50 390.90,145.00" fill="none" stroke="#3B8DE3" stroke-width="0.85" stroke-dasharray="1.2,0.8"/>
<polyline points="371.90,149.50 381.40,148.80 390.90,151.00" fill="none" stroke="#E8622A" stroke-width="0.85" stroke-dasharray="1.2,0.8"/>
<polyline points="371.90,178.20 381.40,173.70 390.90,173.40" fill="none" stroke="#333333" stroke-width="0.85" stroke-dasharray="1.2,0.8"/>
<polyline points="400.50,146.30 410.00,148.40 419.60,151.60" fill="none" stroke="#E8622A" stroke-width="0.85"/>
<polyline points="402.00,146.00 410.00,147.50 419.60,151.60" fill="none" stroke="#3B8DE3" stroke-width="0.85" stroke-dasharray="1.2,0.8"/>
<polyline points="438.60,149.00 448.20,150.30" fill="none" stroke="#3B8DE3" stroke-width="0.85" stroke-dasharray="1.2,0.8"/>
<polyline points="441.00,148.00 448.20,156.90" fill="none" stroke="#E8622A" stroke-width="0.85"/>
<polyline points="457.70,158.20 467.30,164.40" fill="none" stroke="#E8622A" stroke-width="0.85"/>
<polyline points="457.70,161.00 467.30,166.50" fill="none" stroke="#3B8DE3" stroke-width="0.85" stroke-dasharray="1.2,0.8"/>
<polyline points="458.60,177.70 467.30,181.40" fill="none" stroke="#333333" stroke-width="0.85"/>
<polyline points="457.00,193.60 467.30,191.50" fill="none" stroke="#333333" stroke-width="0.85"/>
<rect x="332.00" y="150.80" width="2.60" height="2.60" fill="#A9739E"/>
<rect x="341.60" y="153.50" width="2.60" height="2.60" fill="#A9739E"/>
<circle cx="352.40" cy="167.00" r="1.46" fill="#E8622A"/>
<rect x="351.10" y="171.00" width="2.60" height="2.60" fill="#3B8DE3"/>
<rect x="360.70" y="150.80" width="2.60" height="2.60" fill="#A9739E"/>
<circle cx="333.30" cy="170.20" r="1.46" fill="#333333"/>
<circle cx="333.30" cy="181.40" r="1.46" fill="#333333"/>
<circle cx="333.30" cy="197.30" r="1.43" fill="none" stroke="#17898A" stroke-width="0.78"/>
<circle cx="342.90" cy="159.60" r="1.43" fill="none" stroke="#17898A" stroke-width="0.78"/>
<circle cx="362.00" cy="178.20" r="1.46" fill="#333333"/>
<rect x="360.70" y="183.50" width="2.60" height="2.60" fill="#1E7B47"/>
<circle cx="362.00" cy="201.60" r="1.46" fill="#333333"/>
<rect x="370.60" y="141.80" width="2.60" height="2.60" fill="#3B8DE3"/>
<rect x="380.10" y="141.20" width="2.60" height="2.60" fill="#3B8DE3"/>
<rect x="389.60" y="143.70" width="2.60" height="2.60" fill="#3B8DE3"/>
<circle cx="371.90" cy="149.50" r="1.46" fill="#E8622A"/>
<circle cx="381.40" cy="148.80" r="1.46" fill="#E8622A"/>
<circle cx="390.90" cy="151.00" r="1.46" fill="#E8622A"/>
<circle cx="371.90" cy="178.20" r="1.46" fill="#333333"/>
<circle cx="381.40" cy="173.70" r="1.46" fill="#333333"/>
<circle cx="390.90" cy="173.40" r="1.46" fill="#333333"/>
<circle cx="390.90" cy="191.50" r="1.46" fill="#333333"/>
<circle cx="400.50" cy="146.30" r="1.46" fill="#E8622A"/>
<rect x="400.70" y="144.70" width="2.60" height="2.60" fill="#3B8DE3"/>
<circle cx="410.00" cy="148.40" r="1.46" fill="#E8622A"/>
<rect x="408.70" y="146.20" width="2.60" height="2.60" fill="#3B8DE3"/>
<rect x="408.70" y="155.60" width="2.60" height="2.60" fill="#3B8DE3"/>
<rect x="418.30" y="150.30" width="2.60" height="2.60" fill="#DC2A80"/>
<rect x="416.20" y="149.90" width="2.60" height="2.60" fill="#3B8DE3"/>
<circle cx="400.50" cy="175.00" r="1.46" fill="#333333"/>
<circle cx="400.50" cy="186.70" r="1.46" fill="#333333"/>
<circle cx="410.00" cy="184.80" r="1.46" fill="#333333"/>
<circle cx="410.00" cy="191.50" r="1.46" fill="#333333"/>
<circle cx="410.00" cy="196.80" r="1.46" fill="#333333"/>
<rect x="408.70" y="200.30" width="2.60" height="2.60" fill="#3B8DE3"/>
<rect x="418.30" y="182.70" width="2.60" height="2.60" fill="#3B8DE3"/>
<circle cx="419.60" cy="191.50" r="1.46" fill="#333333"/>
<rect x="427.80" y="195.50" width="2.60" height="2.60" fill="#DC2A80"/>
<rect x="437.30" y="147.70" width="2.60" height="2.60" fill="#3B8DE3"/>
<circle cx="441.00" cy="148.00" r="1.46" fill="#E8622A"/>
<rect x="439.70" y="150.70" width="2.60" height="2.60" fill="#3B8DE3"/>
<rect x="446.90" y="149.00" width="2.60" height="2.60" fill="#3B8DE3"/>
<circle cx="448.20" cy="156.90" r="1.46" fill="#E8622A"/>
<circle cx="450.60" cy="151.00" r="1.46" fill="#333333"/>
<circle cx="438.60" cy="163.60" r="1.46" fill="#333333"/>
<rect x="435.40" y="189.70" width="2.60" height="2.60" fill="#3B8DE3"/>
<rect x="439.20" y="189.70" width="2.60" height="2.60" fill="#3B8DE3"/>
<circle cx="457.70" cy="158.20" r="1.46" fill="#E8622A"/>
<rect x="456.40" y="159.70" width="2.60" height="2.60" fill="#3B8DE3"/>
<circle cx="467.30" cy="164.40" r="1.46" fill="#E8622A"/>
<rect x="466.00" y="165.20" width="2.60" height="2.60" fill="#3B8DE3"/>
<circle cx="458.60" cy="177.70" r="1.46" fill="#333333"/>
<circle cx="467.30" cy="181.40" r="1.46" fill="#333333"/>
<circle cx="457.00" cy="193.60" r="1.46" fill="#333333"/>
<circle cx="461.00" cy="192.30" r="1.46" fill="#333333"/>
<circle cx="467.30" cy="191.50" r="1.46" fill="#333333"/>
<circle cx="470.00" cy="191.00" r="1.46" fill="#333333"/>
<circle cx="476.60" cy="153.10" r="1.46" fill="#E8622A"/>
<rect x="475.30" y="179.70" width="2.60" height="2.60" fill="#DC2A80"/>
<circle cx="476.60" cy="197.20" r="1.46" fill="#333333"/>
<circle cx="486.40" cy="195.50" r="1.46" fill="#333333"/>
<text x="170.60" y="241.60" font-size="6.3" text-anchor="middle" fill="#222" font-weight="normal" font-style="normal" stroke="#222" stroke-width="0.18">Oligodendroglioma</text>
<line x1="111.80" y1="252.50" x2="111.80" y2="320.20" stroke="#c8c8c8" stroke-width="0.6"/>
<line x1="139.10" y1="252.50" x2="139.10" y2="320.20" stroke="#c8c8c8" stroke-width="0.6"/>
<line x1="156.60" y1="252.50" x2="156.60" y2="320.20" stroke="#c8c8c8" stroke-width="0.6"/>
<line x1="175.50" y1="252.50" x2="175.50" y2="320.20" stroke="#c8c8c8" stroke-width="0.6"/>
<line x1="211.40" y1="252.50" x2="211.40" y2="320.20" stroke="#c8c8c8" stroke-width="0.6"/>
<line x1="247.00" y1="252.50" x2="247.00" y2="320.20" stroke="#c8c8c8" stroke-width="0.6"/>
<line x1="265.20" y1="252.50" x2="265.20" y2="320.20" stroke="#c8c8c8" stroke-width="0.6"/>
<line x1="74.40" y1="279.30" x2="265.20" y2="279.30" stroke="#c6c6c6" stroke-width="0.7" stroke-dasharray="1.6,1.1"/>
<line x1="74.40" y1="293.60" x2="265.20" y2="293.60" stroke="#bdbdbd" stroke-width="0.6"/>
<line x1="74.40" y1="252.50" x2="74.40" y2="320.20" stroke="#111" stroke-width="1.15"/>
<line x1="72.00" y1="314.50" x2="74.40" y2="314.50" stroke="#111" stroke-width="0.9"/>
<text x="71.40" y="316.25" font-size="5.1" text-anchor="end" fill="#222" font-weight="normal" font-style="normal" stroke="#222" stroke-width="0.18">0.1</text>
<line x1="73.20" y1="308.33" x2="74.40" y2="308.33" stroke="#111" stroke-width="0.5"/>
<line x1="73.20" y1="304.72" x2="74.40" y2="304.72" stroke="#111" stroke-width="0.5"/>
<line x1="73.20" y1="302.16" x2="74.40" y2="302.16" stroke="#111" stroke-width="0.5"/>
<line x1="73.20" y1="300.17" x2="74.40" y2="300.17" stroke="#111" stroke-width="0.5"/>
<line x1="73.20" y1="298.55" x2="74.40" y2="298.55" stroke="#111" stroke-width="0.5"/>
<line x1="73.20" y1="297.18" x2="74.40" y2="297.18" stroke="#111" stroke-width="0.5"/>
<line x1="73.20" y1="295.99" x2="74.40" y2="295.99" stroke="#111" stroke-width="0.5"/>
<line x1="73.20" y1="294.94" x2="74.40" y2="294.94" stroke="#111" stroke-width="0.5"/>
<line x1="72.00" y1="294.00" x2="74.40" y2="294.00" stroke="#111" stroke-width="0.9"/>
<text x="71.40" y="295.75" font-size="5.1" text-anchor="end" fill="#222" font-weight="normal" font-style="normal" stroke="#222" stroke-width="0.18">1</text>
<line x1="73.20" y1="287.83" x2="74.40" y2="287.83" stroke="#111" stroke-width="0.5"/>
<line x1="73.20" y1="284.22" x2="74.40" y2="284.22" stroke="#111" stroke-width="0.5"/>
<line x1="73.20" y1="281.66" x2="74.40" y2="281.66" stroke="#111" stroke-width="0.5"/>
<line x1="73.20" y1="279.67" x2="74.40" y2="279.67" stroke="#111" stroke-width="0.5"/>
<line x1="73.20" y1="278.05" x2="74.40" y2="278.05" stroke="#111" stroke-width="0.5"/>
<line x1="73.20" y1="276.68" x2="74.40" y2="276.68" stroke="#111" stroke-width="0.5"/>
<line x1="73.20" y1="275.49" x2="74.40" y2="275.49" stroke="#111" stroke-width="0.5"/>
<line x1="73.20" y1="274.44" x2="74.40" y2="274.44" stroke="#111" stroke-width="0.5"/>
<line x1="72.00" y1="273.50" x2="74.40" y2="273.50" stroke="#111" stroke-width="0.9"/>
<text x="71.40" y="275.25" font-size="5.1" text-anchor="end" fill="#222" font-weight="normal" font-style="normal" stroke="#222" stroke-width="0.18">10</text>
<line x1="73.20" y1="267.33" x2="74.40" y2="267.33" stroke="#111" stroke-width="0.5"/>
<line x1="73.20" y1="263.72" x2="74.40" y2="263.72" stroke="#111" stroke-width="0.5"/>
<line x1="73.20" y1="261.16" x2="74.40" y2="261.16" stroke="#111" stroke-width="0.5"/>
<line x1="73.20" y1="259.17" x2="74.40" y2="259.17" stroke="#111" stroke-width="0.5"/>
<line x1="73.20" y1="257.55" x2="74.40" y2="257.55" stroke="#111" stroke-width="0.5"/>
<line x1="73.20" y1="256.18" x2="74.40" y2="256.18" stroke="#111" stroke-width="0.5"/>
<line x1="73.20" y1="254.99" x2="74.40" y2="254.99" stroke="#111" stroke-width="0.5"/>
<line x1="73.20" y1="253.94" x2="74.40" y2="253.94" stroke="#111" stroke-width="0.5"/>
<line x1="72.00" y1="253.00" x2="74.40" y2="253.00" stroke="#111" stroke-width="0.9"/>
<text x="71.40" y="254.75" font-size="5.1" text-anchor="end" fill="#222" font-weight="normal" font-style="normal" stroke="#222" stroke-width="0.18">100</text>
<line x1="73.20" y1="319.05" x2="74.40" y2="319.05" stroke="#111" stroke-width="0.5"/>
<line x1="73.20" y1="317.68" x2="74.40" y2="317.68" stroke="#111" stroke-width="0.5"/>
<line x1="73.20" y1="316.49" x2="74.40" y2="316.49" stroke="#111" stroke-width="0.5"/>
<line x1="73.20" y1="315.44" x2="74.40" y2="315.44" stroke="#111" stroke-width="0.5"/>
<line x1="73.80" y1="320.20" x2="265.20" y2="320.20" stroke="#111" stroke-width="1.3"/>
<line x1="80.00" y1="320.20" x2="80.00" y2="323.00" stroke="#111" stroke-width="0.9"/>
<text x="80.00" y="328.90" font-size="4.9" text-anchor="middle" fill="#222" font-weight="normal" font-style="normal" stroke="#222" stroke-width="0.18">T</text>
<line x1="89.03" y1="320.20" x2="89.03" y2="323.00" stroke="#111" stroke-width="0.9"/>
<text x="89.03" y="328.90" font-size="4.9" text-anchor="middle" fill="#222" font-weight="normal" font-style="normal" stroke="#222" stroke-width="0.18">T</text>
<line x1="98.06" y1="320.20" x2="98.06" y2="323.00" stroke="#111" stroke-width="0.9"/>
<text x="98.06" y="328.90" font-size="4.9" text-anchor="middle" fill="#222" font-weight="normal" font-style="normal" stroke="#222" stroke-width="0.18">PE</text>
<line x1="107.09" y1="320.20" x2="107.09" y2="323.00" stroke="#111" stroke-width="0.9"/>
<text x="107.09" y="328.90" font-size="4.9" text-anchor="middle" fill="#222" font-weight="normal" font-style="normal" stroke="#222" stroke-width="0.18">PE</text>
<line x1="116.12" y1="320.20" x2="116.12" y2="323.00" stroke="#111" stroke-width="0.9"/>
<text x="116.12" y="328.90" font-size="4.9" text-anchor="middle" fill="#222" font-weight="normal" font-style="normal" stroke="#222" stroke-width="0.18">T</text>
<line x1="125.15" y1="320.20" x2="125.15" y2="323.00" stroke="#111" stroke-width="0.9"/>
<text x="125.15" y="328.90" font-size="4.9" text-anchor="middle" fill="#222" font-weight="normal" font-style="normal" stroke="#222" stroke-width="0.18">T</text>
<line x1="134.18" y1="320.20" x2="134.18" y2="323.00" stroke="#111" stroke-width="0.9"/>
<text x="134.18" y="328.90" font-size="4.9" text-anchor="middle" fill="#222" font-weight="normal" font-style="normal" stroke="#222" stroke-width="0.18">PE</text>
<line x1="143.21" y1="320.20" x2="143.21" y2="323.00" stroke="#111" stroke-width="0.9"/>
<text x="143.21" y="328.90" font-size="4.9" text-anchor="middle" fill="#222" font-weight="normal" font-style="normal" stroke="#222" stroke-width="0.18">T</text>
<line x1="152.24" y1="320.20" x2="152.24" y2="323.00" stroke="#111" stroke-width="0.9"/>
<text x="152.24" y="328.90" font-size="4.9" text-anchor="middle" fill="#222" font-weight="normal" font-style="normal" stroke="#222" stroke-width="0.18">PE</text>
<line x1="161.27" y1="320.20" x2="161.27" y2="323.00" stroke="#111" stroke-width="0.9"/>
<text x="161.27" y="328.90" font-size="4.9" text-anchor="middle" fill="#222" font-weight="normal" font-style="normal" stroke="#222" stroke-width="0.18">T</text>
<line x1="170.30" y1="320.20" x2="170.30" y2="323.00" stroke="#111" stroke-width="0.9"/>
<text x="170.30" y="328.90" font-size="4.9" text-anchor="middle" fill="#222" font-weight="normal" font-style="normal" stroke="#222" stroke-width="0.18">PE</text>
<line x1="179.33" y1="320.20" x2="179.33" y2="323.00" stroke="#111" stroke-width="0.9"/>
<text x="179.33" y="328.90" font-size="4.9" text-anchor="middle" fill="#222" font-weight="normal" font-style="normal" stroke="#222" stroke-width="0.18">T</text>
<line x1="188.36" y1="320.20" x2="188.36" y2="323.00" stroke="#111" stroke-width="0.9"/>
<text x="188.36" y="328.90" font-size="4.9" text-anchor="middle" fill="#222" font-weight="normal" font-style="normal" stroke="#222" stroke-width="0.18">T</text>
<line x1="197.39" y1="320.20" x2="197.39" y2="323.00" stroke="#111" stroke-width="0.9"/>
<text x="197.39" y="328.90" font-size="4.9" text-anchor="middle" fill="#222" font-weight="normal" font-style="normal" stroke="#222" stroke-width="0.18">PE</text>
<line x1="206.42" y1="320.20" x2="206.42" y2="323.00" stroke="#111" stroke-width="0.9"/>
<text x="206.42" y="328.90" font-size="4.9" text-anchor="middle" fill="#222" font-weight="normal" font-style="normal" stroke="#222" stroke-width="0.18">PE</text>
<line x1="215.45" y1="320.20" x2="215.45" y2="323.00" stroke="#111" stroke-width="0.9"/>
<text x="215.45" y="328.90" font-size="4.9" text-anchor="middle" fill="#222" font-weight="normal" font-style="normal" stroke="#222" stroke-width="0.18">T</text>
<line x1="224.48" y1="320.20" x2="224.48" y2="323.00" stroke="#111" stroke-width="0.9"/>
<text x="224.48" y="328.90" font-size="4.9" text-anchor="middle" fill="#222" font-weight="normal" font-style="normal" stroke="#222" stroke-width="0.18">T</text>
<line x1="233.51" y1="320.20" x2="233.51" y2="323.00" stroke="#111" stroke-width="0.9"/>
<text x="233.51" y="328.90" font-size="4.9" text-anchor="middle" fill="#222" font-weight="normal" font-style="normal" stroke="#222" stroke-width="0.18">PE</text>
<line x1="242.54" y1="320.20" x2="242.54" y2="323.00" stroke="#111" stroke-width="0.9"/>
<text x="242.54" y="328.90" font-size="4.9" text-anchor="middle" fill="#222" font-weight="normal" font-style="normal" stroke="#222" stroke-width="0.18">PE</text>
<line x1="251.57" y1="320.20" x2="251.57" y2="323.00" stroke="#111" stroke-width="0.9"/>
<text x="251.57" y="328.90" font-size="4.9" text-anchor="middle" fill="#222" font-weight="normal" font-style="normal" stroke="#222" stroke-width="0.18">T</text>
<line x1="260.60" y1="320.20" x2="260.60" y2="323.00" stroke="#111" stroke-width="0.9"/>
<text x="260.60" y="328.90" font-size="4.9" text-anchor="middle" fill="#222" font-weight="normal" font-style="normal" stroke="#222" stroke-width="0.18">PE</text>
<text x="93.60" y="250.20" font-size="4.6" text-anchor="middle" fill="#333" font-weight="normal" font-style="normal" stroke="#333" stroke-width="0.18">O1</text>
<text x="125.00" y="250.20" font-size="4.6" text-anchor="middle" fill="#333" font-weight="normal" font-style="normal" stroke="#333" stroke-width="0.18">O2</text>
<text x="148.00" y="250.20" font-size="4.6" text-anchor="middle" fill="#333" font-weight="normal" font-style="normal" stroke="#333" stroke-width="0.18">O3</text>
<text x="166.00" y="250.20" font-size="4.6" text-anchor="middle" fill="#333" font-weight="normal" font-style="normal" stroke="#333" stroke-width="0.18">O4</text>
<text x="193.70" y="250.20" font-size="4.6" text-anchor="middle" fill="#333" font-weight="normal" font-style="normal" stroke="#333" stroke-width="0.18">O5</text>
<text x="229.40" y="250.20" font-size="4.6" text-anchor="middle" fill="#333" font-weight="normal" font-style="normal" stroke="#333" stroke-width="0.18">O6</text>
<text x="256.00" y="250.20" font-size="4.6" text-anchor="middle" fill="#333" font-weight="normal" font-style="normal" stroke="#333" stroke-width="0.18">O7</text>
<text x="59.90" y="287.10" font-size="5.5" text-anchor="middle" fill="#222" font-weight="normal" font-style="normal" transform="rotate(-90 59.9 287.1)" stroke="#222" stroke-width="0.18">VAF, %</text>
<line x1="75.90" y1="331.50" x2="137.20" y2="331.50" stroke="#444" stroke-width="0.75"/>
<line x1="140.00" y1="331.50" x2="265.00" y2="331.50" stroke="#444" stroke-width="0.75"/>
<text x="107.00" y="337.60" font-size="5.3" text-anchor="middle" fill="#222" font-weight="normal" font-style="normal" stroke="#222" stroke-width="0.18">Grade 3</text>
<text x="188.90" y="337.60" font-size="5.3" text-anchor="middle" fill="#222" font-weight="normal" font-style="normal" stroke="#222" stroke-width="0.18">Grade 2</text>
<circle cx="276.00" cy="248.60" r="2.02" fill="#7B2BDB"/>
<text x="280.50" y="250.30" font-size="4.6" text-anchor="start" fill="#222" font-weight="normal" font-style="italic" stroke="#222" stroke-width="0.12">TERT</text>
<circle cx="276.00" cy="256.57" r="2.02" fill="#E8622A"/>
<text x="280.50" y="258.27" font-size="4.6" text-anchor="start" fill="#222" font-weight="normal" font-style="italic" stroke="#222" stroke-width="0.12">IDH</text>
<rect x="274.20" y="262.74" width="3.60" height="3.60" fill="#3B8DE3"/>
<text x="280.50" y="266.24" font-size="4.6" text-anchor="start" fill="#222" font-weight="normal" font-style="italic" stroke="#222" stroke-width="0.12">TP53</text>
<rect x="274.20" y="270.71" width="3.60" height="3.60" fill="#1E7B47"/>
<text x="280.50" y="274.21" font-size="4.6" text-anchor="start" fill="#222" font-weight="normal" font-style="italic" stroke="#222" stroke-width="0.12">PTEN</text>
<rect x="274.20" y="278.68" width="3.60" height="3.60" fill="#DC2A80"/>
<text x="280.50" y="282.18" font-size="4.6" text-anchor="start" fill="#222" font-weight="normal" font-style="italic" stroke="#222" stroke-width="0.12">NF1</text>
<polygon points="276.00,286.20 278.25,288.45 276.00,290.70 273.75,288.45" fill="#F3A444"/>
<text x="280.50" y="290.15" font-size="4.6" text-anchor="start" fill="#222" font-weight="normal" font-style="italic" stroke="#222" stroke-width="0.12">MTOR</text>
<polygon points="276.00,294.44 278.61,297.95 273.39,297.95" fill="#E046E0"/>
<text x="280.50" y="298.12" font-size="4.6" text-anchor="start" fill="#222" font-weight="normal" font-style="normal" stroke="#222" stroke-width="0.12">CIC</text>
<polygon points="276.00,306.37 278.61,302.86 273.39,302.86" fill="#D62A3A"/>
<text x="280.50" y="306.09" font-size="4.6" text-anchor="start" fill="#222" font-weight="normal" font-style="italic" stroke="#222" stroke-width="0.12">EGFR</text>
<circle cx="276.00" cy="312.36" r="1.98" fill="none" stroke="#17898A" stroke-width="1.08"/>
<text x="280.50" y="314.06" font-size="4.6" text-anchor="start" fill="#222" font-weight="normal" font-style="italic" stroke="#222" stroke-width="0.12">PIK3CA</text>
<circle cx="276.00" cy="320.33" r="2.02" fill="#333333"/>
<text x="280.50" y="322.03" font-size="4.6" text-anchor="start" fill="#222" font-weight="normal" font-style="normal" stroke="#222" stroke-width="0.12">Other</text>
<polyline points="79.50,263.50 88.70,262.60 98.00,264.00 110.00,262.60" fill="none" stroke="#E046E0" stroke-width="0.85" stroke-dasharray="1.2,0.8"/>
<polyline points="88.70,292.00 98.00,264.50" fill="none" stroke="#17898A" stroke-width="0.85" stroke-dasharray="1.2,0.8"/>
<polyline points="88.70,305.60 98.00,303.00 107.00,301.90" fill="none" stroke="#E046E0" stroke-width="0.85" stroke-dasharray="1.2,0.8"/>
<polyline points="116.10,255.90 125.30,257.00 134.50,257.40" fill="none" stroke="#E046E0" stroke-width="0.85" stroke-dasharray="1.2,0.8"/>
<polyline points="116.10,260.20 125.30,260.50 134.50,260.80" fill="none" stroke="#E8622A" stroke-width="0.85" stroke-dasharray="1.2,0.8"/>
<polyline points="116.10,306.20 134.50,313.20" fill="none" stroke="#3B8DE3" stroke-width="0.85" stroke-dasharray="1.2,0.8"/>
<polyline points="143.70,261.00 152.30,302.50" fill="none" stroke="#333333" stroke-width="0.85"/>
<polyline points="161.50,262.00 170.70,262.50" fill="none" stroke="#E8622A" stroke-width="0.85" stroke-dasharray="1.2,0.8"/>
<polyline points="163.00,262.00 172.00,262.00" fill="none" stroke="#7B2BDB" stroke-width="0.85" stroke-dasharray="1.2,0.8"/>
<polyline points="179.50,280.00 189.00,259.30 206.50,260.50" fill="none" stroke="#7B2BDB" stroke-width="0.85" stroke-dasharray="1.2,0.8"/>
<polyline points="181.20,287.50 189.00,262.00" fill="none" stroke="#E8622A" stroke-width="0.85" stroke-dasharray="1.2,0.8"/>
<polyline points="189.00,262.00 199.30,287.50 208.00,261.30" fill="none" stroke="#E8622A" stroke-width="0.85"/>
<polyline points="189.00,259.50 198.50,300.00" fill="none" stroke="#E046E0" stroke-width="0.85" stroke-dasharray="1.2,0.8"/>
<polyline points="189.00,269.60 196.60,299.50" fill="none" stroke="#E046E0" stroke-width="0.85" stroke-dasharray="1.2,0.8"/>
<polyline points="189.00,281.00 207.00,290.20" fill="none" stroke="#E046E0" stroke-width="0.85" stroke-dasharray="1.2,0.8"/>
<polyline points="187.50,282.50 207.00,294.30" fill="none" stroke="#E046E0" stroke-width="0.85" stroke-dasharray="1.2,0.8"/>
<polyline points="179.50,297.40 197.70,299.90" fill="none" stroke="#333333" stroke-width="0.85" stroke-dasharray="1.2,0.8"/>
<polyline points="216.00,260.50 224.60,260.50 233.80,265.70 243.00,288.00" fill="none" stroke="#7B2BDB" stroke-width="0.85" stroke-dasharray="1.2,0.8"/>
<polyline points="216.00,259.50 224.60,259.50 233.80,265.70 243.00,287.10" fill="none" stroke="#E8622A" stroke-width="0.85"/>
<polyline points="216.00,288.70 224.60,290.20" fill="none" stroke="#E046E0" stroke-width="0.85" stroke-dasharray="1.2,0.8"/>
<polyline points="251.90,262.20 261.20,287.90" fill="none" stroke="#E8622A" stroke-width="0.85"/>
<polyline points="251.90,262.50 261.20,281.40" fill="none" stroke="#7B2BDB" stroke-width="0.85" stroke-dasharray="1.2,0.8"/>
<circle cx="79.50" cy="264.80" r="1.43" fill="none" stroke="#17898A" stroke-width="0.78"/>
<polygon points="81.00,262.07 82.89,264.61 79.11,264.61" fill="#E046E0"/>
<polygon points="88.70,261.17 90.59,263.71 86.81,263.71" fill="#E046E0"/>
<circle cx="89.50" cy="262.00" r="1.46" fill="#E8622A"/>
<circle cx="98.00" cy="263.50" r="1.43" fill="none" stroke="#17898A" stroke-width="0.78"/>
<polygon points="99.00,262.57 100.89,265.11 97.11,265.11" fill="#E046E0"/>
<circle cx="107.00" cy="264.50" r="1.43" fill="none" stroke="#17898A" stroke-width="0.78"/>
<polygon points="110.00,261.17 111.89,263.71 108.11,263.71" fill="#E046E0"/>
<circle cx="79.50" cy="281.00" r="1.43" fill="none" stroke="#17898A" stroke-width="0.78"/>
<circle cx="98.00" cy="278.90" r="1.46" fill="#333333"/>
<polygon points="79.50,291.87 81.39,294.41 77.61,294.41" fill="#E046E0"/>
<polygon points="88.00,290.27 89.89,292.81 86.11,292.81" fill="#E046E0"/>
<polygon points="91.00,290.27 92.89,292.81 89.11,292.81" fill="#E046E0"/>
<circle cx="88.70" cy="298.80" r="1.43" fill="none" stroke="#17898A" stroke-width="0.78"/>
<circle cx="88.70" cy="305.60" r="1.43" fill="none" stroke="#17898A" stroke-width="0.78"/>
<circle cx="91.00" cy="308.00" r="1.43" fill="none" stroke="#17898A" stroke-width="0.78"/>
<polygon points="79.50,306.57 81.39,309.11 77.61,309.11" fill="#E046E0"/>
<polygon points="98.00,301.57 99.89,304.11 96.11,304.11" fill="#E046E0"/>
<polygon points="107.00,300.47 108.89,303.00 105.11,303.00" fill="#E046E0"/>
<circle cx="98.00" cy="313.20" r="1.43" fill="none" stroke="#17898A" stroke-width="0.78"/>
<circle cx="101.50" cy="314.10" r="1.43" fill="none" stroke="#17898A" stroke-width="0.78"/>
<polygon points="116.10,254.47 117.98,257.00 114.21,257.00" fill="#E046E0"/>
<polygon points="125.30,255.57 127.19,258.11 123.41,258.11" fill="#E046E0"/>
<polygon points="134.50,255.97 136.38,258.50 132.62,258.50" fill="#E046E0"/>
<circle cx="116.10" cy="260.20" r="1.46" fill="#E8622A"/>
<polygon points="125.30,258.88 126.92,260.50 125.30,262.12 123.67,260.50" fill="#F3A444"/>
<circle cx="134.50" cy="260.80" r="1.46" fill="#E8622A"/>
<circle cx="134.50" cy="293.30" r="1.46" fill="#333333"/>
<rect x="114.80" y="304.90" width="2.60" height="2.60" fill="#3B8DE3"/>
<rect x="133.20" y="311.90" width="2.60" height="2.60" fill="#3B8DE3"/>
<polygon points="125.30,302.38 126.92,304.00 125.30,305.62 123.67,304.00" fill="#F3A444"/>
<polygon points="134.50,303.57 136.38,306.11 132.62,306.11" fill="#E046E0"/>
<polygon points="134.50,307.17 136.38,309.71 132.62,309.71" fill="#E046E0"/>
<polygon points="143.70,256.57 145.58,259.11 141.81,259.11" fill="#E046E0"/>
<circle cx="152.30" cy="258.00" r="1.46" fill="#E8622A"/>
<circle cx="143.70" cy="261.00" r="1.46" fill="#333333"/>
<rect x="151.00" y="299.70" width="2.60" height="2.60" fill="#3B8DE3"/>
<rect x="148.20" y="301.70" width="2.60" height="2.60" fill="#3B8DE3"/>
<circle cx="143.70" cy="307.00" r="1.46" fill="#333333"/>
<circle cx="152.00" cy="307.00" r="1.46" fill="#333333"/>
<rect x="151.00" y="298.10" width="2.60" height="2.60" fill="#1E7B47"/>
<circle cx="161.50" cy="262.00" r="1.46" fill="#E8622A"/>
<circle cx="163.00" cy="262.00" r="1.46" fill="#7B2BDB"/>
<circle cx="170.70" cy="262.50" r="1.46" fill="#E8622A"/>
<circle cx="172.00" cy="262.00" r="1.46" fill="#7B2BDB"/>
<polygon points="161.50,272.67 163.38,275.21 159.62,275.21" fill="#E046E0"/>
<polygon points="161.50,287.47 163.38,290.00 159.62,290.00" fill="#E046E0"/>
<rect x="162.50" y="287.70" width="2.60" height="2.60" fill="#3B8DE3"/>
<polygon points="161.50,304.07 163.38,306.61 159.62,306.61" fill="#E046E0"/>
<circle cx="159.00" cy="306.50" r="1.46" fill="#333333"/>
<circle cx="161.50" cy="308.60" r="1.46" fill="#333333"/>
<polygon points="161.50,310.57 163.38,313.11 159.62,313.11" fill="#E046E0"/>
<polygon points="170.70,301.87 172.58,304.41 168.81,304.41" fill="#E046E0"/>
<circle cx="170.70" cy="307.70" r="1.46" fill="#333333"/>
<polygon points="170.70,309.57 172.58,312.11 168.81,312.11" fill="#E046E0"/>
<polygon points="172.60,301.57 174.48,304.11 170.72,304.11" fill="#E046E0"/>
<circle cx="179.50" cy="280.00" r="1.46" fill="#7B2BDB"/>
<circle cx="181.20" cy="287.50" r="1.46" fill="#E8622A"/>
<circle cx="189.00" cy="259.30" r="1.46" fill="#7B2BDB"/>
<circle cx="190.00" cy="262.00" r="1.46" fill="#E8622A"/>
<circle cx="206.50" cy="260.50" r="1.46" fill="#7B2BDB"/>
<polygon points="208.00,259.87 209.88,262.41 206.12,262.41" fill="#E046E0"/>
<circle cx="199.30" cy="287.50" r="1.46" fill="#E8622A"/>
<polygon points="189.00,268.17 190.88,270.71 187.12,270.71" fill="#E046E0"/>
<polygon points="189.00,279.57 190.88,282.11 187.12,282.11" fill="#E046E0"/>
<polygon points="187.50,281.07 189.38,283.61 185.62,283.61" fill="#E046E0"/>
<polygon points="196.60,298.07 198.48,300.61 194.72,300.61" fill="#E046E0"/>
<polygon points="207.00,288.77 208.88,291.31 205.12,291.31" fill="#E046E0"/>
<polygon points="207.00,292.87 208.88,295.41 205.12,295.41" fill="#E046E0"/>
<circle cx="179.50" cy="297.40" r="1.46" fill="#333333"/>
<circle cx="197.70" cy="299.90" r="1.46" fill="#333333"/>
<rect x="187.10" y="294.50" width="2.60" height="2.60" fill="#3B8DE3"/>
<polygon points="189.00,297.07 190.88,299.61 187.12,299.61" fill="#E046E0"/>
<polygon points="204.90,297.88 206.53,299.50 204.90,301.12 203.28,299.50" fill="#F3A444"/>
<circle cx="207.00" cy="304.60" r="1.46" fill="#333333"/>
<rect x="205.00" y="310.10" width="2.60" height="2.60" fill="#3B8DE3"/>
<circle cx="188.40" cy="310.80" r="1.46" fill="#333333"/>
<circle cx="216.00" cy="259.50" r="1.46" fill="#E8622A"/>
<circle cx="224.60" cy="259.50" r="1.46" fill="#E8622A"/>
<circle cx="233.80" cy="265.70" r="1.46" fill="#7B2BDB"/>
<circle cx="243.00" cy="287.10" r="1.46" fill="#E8622A"/>
<polygon points="216.00,287.27 217.88,289.81 214.12,289.81" fill="#E046E0"/>
<polygon points="224.60,288.77 226.48,291.31 222.72,291.31" fill="#E046E0"/>
<polygon points="216.00,299.57 217.88,302.11 214.12,302.11" fill="#E046E0"/>
<polygon points="220.00,299.57 221.88,302.11 218.12,302.11" fill="#E046E0"/>
<polygon points="224.60,301.07 226.48,303.61 222.72,303.61" fill="#E046E0"/>
<circle cx="224.60" cy="310.20" r="1.46" fill="#333333"/>
<polygon points="233.80,313.13 235.69,310.59 231.92,310.59" fill="#D62A3A"/>
<polygon points="237.00,313.43 238.88,310.89 235.12,310.89" fill="#D62A3A"/>
<polygon points="235.50,314.43 237.38,311.89 233.62,311.89" fill="#D62A3A"/>
<circle cx="251.90" cy="262.20" r="1.46" fill="#E8622A"/>
<circle cx="261.20" cy="281.40" r="1.46" fill="#7B2BDB"/>
<circle cx="261.20" cy="287.90" r="1.46" fill="#E8622A"/>
<polygon points="251.90,288.07 253.78,290.61 250.02,290.61" fill="#E046E0"/>
<polygon points="251.90,295.47 253.78,298.00 250.02,298.00" fill="#E046E0"/>
<circle cx="251.90" cy="301.40" r="1.46" fill="#333333"/>
<circle cx="251.90" cy="304.60" r="1.46" fill="#333333"/>
<text x="391.80" y="243.60" font-size="6.8" text-anchor="middle" fill="#222" font-weight="normal" font-style="normal" stroke="#222" stroke-width="0.18">NF1</text>
<rect x="374.40" y="284.00" width="35.20" height="8.40" fill="#FCEDF2"/>
<line x1="409.80" y1="254.50" x2="409.80" y2="321.80" stroke="#c8c8c8" stroke-width="0.6"/>
<line x1="373.60" y1="281.10" x2="409.80" y2="281.10" stroke="#7fbfb5" stroke-width="0.7" stroke-dasharray="1.6,1.1"/>
<line x1="373.60" y1="295.40" x2="409.80" y2="295.40" stroke="#bdbdbd" stroke-width="0.6"/>
<line x1="373.60" y1="254.50" x2="373.60" y2="321.80" stroke="#111" stroke-width="1.15"/>
<line x1="371.20" y1="315.50" x2="373.60" y2="315.50" stroke="#111" stroke-width="0.9"/>
<text x="370.60" y="317.25" font-size="5.1" text-anchor="end" fill="#222" font-weight="normal" font-style="normal" stroke="#222" stroke-width="0.18">0.1</text>
<line x1="372.40" y1="309.45" x2="373.60" y2="309.45" stroke="#111" stroke-width="0.5"/>
<line x1="372.40" y1="305.91" x2="373.60" y2="305.91" stroke="#111" stroke-width="0.5"/>
<line x1="372.40" y1="303.40" x2="373.60" y2="303.40" stroke="#111" stroke-width="0.5"/>
<line x1="372.40" y1="301.45" x2="373.60" y2="301.45" stroke="#111" stroke-width="0.5"/>
<line x1="372.40" y1="299.86" x2="373.60" y2="299.86" stroke="#111" stroke-width="0.5"/>
<line x1="372.40" y1="298.51" x2="373.60" y2="298.51" stroke="#111" stroke-width="0.5"/>
<line x1="372.40" y1="297.35" x2="373.60" y2="297.35" stroke="#111" stroke-width="0.5"/>
<line x1="372.40" y1="296.32" x2="373.60" y2="296.32" stroke="#111" stroke-width="0.5"/>
<line x1="371.20" y1="295.40" x2="373.60" y2="295.40" stroke="#111" stroke-width="0.9"/>
<text x="370.60" y="297.15" font-size="5.1" text-anchor="end" fill="#222" font-weight="normal" font-style="normal" stroke="#222" stroke-width="0.18">1</text>
<line x1="372.40" y1="289.35" x2="373.60" y2="289.35" stroke="#111" stroke-width="0.5"/>
<line x1="372.40" y1="285.81" x2="373.60" y2="285.81" stroke="#111" stroke-width="0.5"/>
<line x1="372.40" y1="283.30" x2="373.60" y2="283.30" stroke="#111" stroke-width="0.5"/>
<line x1="372.40" y1="281.35" x2="373.60" y2="281.35" stroke="#111" stroke-width="0.5"/>
<line x1="372.40" y1="279.76" x2="373.60" y2="279.76" stroke="#111" stroke-width="0.5"/>
<line x1="372.40" y1="278.41" x2="373.60" y2="278.41" stroke="#111" stroke-width="0.5"/>
<line x1="372.40" y1="277.25" x2="373.60" y2="277.25" stroke="#111" stroke-width="0.5"/>
<line x1="372.40" y1="276.22" x2="373.60" y2="276.22" stroke="#111" stroke-width="0.5"/>
<line x1="371.20" y1="275.30" x2="373.60" y2="275.30" stroke="#111" stroke-width="0.9"/>
<text x="370.60" y="277.05" font-size="5.1" text-anchor="end" fill="#222" font-weight="normal" font-style="normal" stroke="#222" stroke-width="0.18">10</text>
<line x1="372.40" y1="269.25" x2="373.60" y2="269.25" stroke="#111" stroke-width="0.5"/>
<line x1="372.40" y1="265.71" x2="373.60" y2="265.71" stroke="#111" stroke-width="0.5"/>
<line x1="372.40" y1="263.20" x2="373.60" y2="263.20" stroke="#111" stroke-width="0.5"/>
<line x1="372.40" y1="261.25" x2="373.60" y2="261.25" stroke="#111" stroke-width="0.5"/>
<line x1="372.40" y1="259.66" x2="373.60" y2="259.66" stroke="#111" stroke-width="0.5"/>
<line x1="372.40" y1="258.31" x2="373.60" y2="258.31" stroke="#111" stroke-width="0.5"/>
<line x1="372.40" y1="257.15" x2="373.60" y2="257.15" stroke="#111" stroke-width="0.5"/>
<line x1="372.40" y1="256.12" x2="373.60" y2="256.12" stroke="#111" stroke-width="0.5"/>
<line x1="371.20" y1="255.20" x2="373.60" y2="255.20" stroke="#111" stroke-width="0.9"/>
<text x="370.60" y="256.95" font-size="5.1" text-anchor="end" fill="#222" font-weight="normal" font-style="normal" stroke="#222" stroke-width="0.18">100</text>
<line x1="372.40" y1="321.55" x2="373.60" y2="321.55" stroke="#111" stroke-width="0.5"/>
<line x1="372.40" y1="319.96" x2="373.60" y2="319.96" stroke="#111" stroke-width="0.5"/>
<line x1="372.40" y1="318.61" x2="373.60" y2="318.61" stroke="#111" stroke-width="0.5"/>
<line x1="372.40" y1="317.45" x2="373.60" y2="317.45" stroke="#111" stroke-width="0.5"/>
<line x1="372.40" y1="316.42" x2="373.60" y2="316.42" stroke="#111" stroke-width="0.5"/>
<line x1="373.00" y1="321.80" x2="409.80" y2="321.80" stroke="#111" stroke-width="1.3"/>
<line x1="378.60" y1="321.80" x2="378.60" y2="324.60" stroke="#111" stroke-width="0.9"/>
<text x="378.60" y="330.80" font-size="4.9" text-anchor="middle" fill="#222" font-weight="normal" font-style="normal" stroke="#222" stroke-width="0.18">T</text>
<line x1="387.40" y1="321.80" x2="387.40" y2="324.60" stroke="#111" stroke-width="0.9"/>
<text x="387.40" y="330.80" font-size="4.9" text-anchor="middle" fill="#222" font-weight="normal" font-style="normal" stroke="#222" stroke-width="0.18">T</text>
<line x1="396.60" y1="321.80" x2="396.60" y2="324.60" stroke="#111" stroke-width="0.9"/>
<text x="396.60" y="330.80" font-size="4.9" text-anchor="middle" fill="#222" font-weight="normal" font-style="normal" stroke="#222" stroke-width="0.18">PE</text>
<line x1="405.50" y1="321.80" x2="405.50" y2="324.60" stroke="#111" stroke-width="0.9"/>
<text x="405.50" y="330.80" font-size="4.9" text-anchor="middle" fill="#222" font-weight="normal" font-style="normal" stroke="#222" stroke-width="0.18">PE</text>
<text x="357.70" y="290.60" font-size="5.5" text-anchor="middle" fill="#222" font-weight="normal" font-style="normal" transform="rotate(-90 357.7 290.6)" stroke="#222" stroke-width="0.18">VAF, %</text>
<circle cx="418.00" cy="250.30" r="2.02" fill="#7B2BDB"/>
<text x="422.50" y="252.00" font-size="4.6" text-anchor="start" fill="#222" font-weight="normal" font-style="italic" stroke="#222" stroke-width="0.12">TERT</text>
<circle cx="418.00" cy="258.30" r="2.02" fill="#E8622A"/>
<text x="422.50" y="260.00" font-size="4.6" text-anchor="start" fill="#222" font-weight="normal" font-style="italic" stroke="#222" stroke-width="0.12">IDH</text>
<rect x="416.20" y="264.50" width="3.60" height="3.60" fill="#3B8DE3"/>
<text x="422.50" y="268.00" font-size="4.6" text-anchor="start" fill="#222" font-weight="normal" font-style="italic" stroke="#222" stroke-width="0.12">TP53</text>
<rect x="416.20" y="272.50" width="3.60" height="3.60" fill="#1E7B47"/>
<text x="422.50" y="276.00" font-size="4.6" text-anchor="start" fill="#222" font-weight="normal" font-style="italic" stroke="#222" stroke-width="0.12">PTEN</text>
<rect x="416.20" y="280.50" width="3.60" height="3.60" fill="#DC2A80"/>
<text x="422.50" y="284.00" font-size="4.6" text-anchor="start" fill="#222" font-weight="normal" font-style="italic" stroke="#222" stroke-width="0.12">NF1</text>
<polygon points="418.00,288.05 420.25,290.30 418.00,292.55 415.75,290.30" fill="#F3A444"/>
<text x="422.50" y="292.00" font-size="4.6" text-anchor="start" fill="#222" font-weight="normal" font-style="italic" stroke="#222" stroke-width="0.12">MTOR</text>
<polygon points="418.00,296.32 420.61,299.83 415.39,299.83" fill="#E046E0"/>
<text x="422.50" y="300.00" font-size="4.6" text-anchor="start" fill="#222" font-weight="normal" font-style="normal" stroke="#222" stroke-width="0.12">CIC</text>
<polygon points="418.00,308.28 420.61,304.77 415.39,304.77" fill="#D62A3A"/>
<text x="422.50" y="308.00" font-size="4.6" text-anchor="start" fill="#222" font-weight="normal" font-style="italic" stroke="#222" stroke-width="0.12">EGFR</text>
<circle cx="418.00" cy="314.30" r="1.98" fill="none" stroke="#17898A" stroke-width="1.08"/>
<text x="422.50" y="316.00" font-size="4.6" text-anchor="start" fill="#222" font-weight="normal" font-style="italic" stroke="#222" stroke-width="0.12">PIK3CA</text>
<circle cx="418.00" cy="322.30" r="2.02" fill="#333333"/>
<text x="422.50" y="324.00" font-size="4.6" text-anchor="start" fill="#222" font-weight="normal" font-style="normal" stroke="#222" stroke-width="0.12">Other</text>
<polyline points="380.20,288.00 396.00,288.90 407.00,288.00" fill="none" stroke="#DC2A80" stroke-width="0.9" stroke-dasharray="1.2,0.8"/>
<polyline points="378.60,300.20 389.30,297.30 396.00,293.60" fill="none" stroke="#DC2A80" stroke-width="0.9" stroke-dasharray="1.2,0.8"/>
<rect x="378.90" y="286.70" width="2.60" height="2.60" fill="#DC2A80"/>
<rect x="394.70" y="287.60" width="2.60" height="2.60" fill="#DC2A80"/>
<rect x="405.70" y="286.70" width="2.60" height="2.60" fill="#DC2A80"/>
<rect x="377.30" y="298.90" width="2.60" height="2.60" fill="#DC2A80"/>
<rect x="388.00" y="296.00" width="2.60" height="2.60" fill="#DC2A80"/>
<rect x="394.70" y="292.30" width="2.60" height="2.60" fill="#DC2A80"/>
<rect x="377.30" y="306.30" width="2.60" height="2.60" fill="#DC2A80"/>
<circle cx="385.60" cy="315.80" r="1.46" fill="#333333"/>
<circle cx="387.40" cy="315.00" r="1.46" fill="#333333"/>
<rect x="403.80" y="304.80" width="2.60" height="2.60" fill="#DC2A80"/>
<rect x="405.00" y="308.50" width="2.60" height="2.60" fill="#DC2A80"/>
<circle cx="405.00" cy="312.00" r="1.46" fill="#333333"/>
</g></svg>
</body></html>
